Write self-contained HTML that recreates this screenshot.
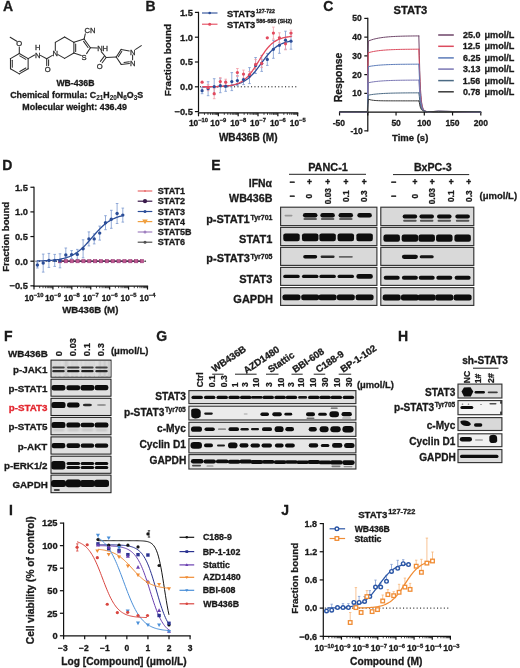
<!DOCTYPE html>
<html><head><meta charset="utf-8"><title>Figure</title>
<style>
html,body{margin:0;padding:0;background:#fff;overflow:hidden;}
svg{display:block;}
text{font-family:'Liberation Sans',Arial,sans-serif;}
</style></head>
<body>
<svg width="520" height="668" viewBox="0 0 520 668">
<defs>
<filter id="b1" x="-30%" y="-100%" width="160%" height="300%"><feGaussianBlur stdDeviation="0.7"/></filter>
<filter id="b2" x="-30%" y="-100%" width="160%" height="300%"><feGaussianBlur stdDeviation="0.9"/></filter>
<filter id="bt" x="-5%" y="-5%" width="110%" height="110%"><feGaussianBlur stdDeviation="0.25"/></filter>
</defs>
<rect width="520" height="668" fill="#fff"/>
<text x="2.95" y="11.30" font-size="14.00" text-anchor="start" fill="#1a1a1a" font-weight="bold" stroke="#1a1a1a" stroke-width="0.3">A</text>
<text x="145.49" y="11.00" font-size="14.00" text-anchor="start" fill="#1a1a1a" font-weight="bold" stroke="#1a1a1a" stroke-width="0.3">B</text>
<text x="323.24" y="11.00" font-size="14.00" text-anchor="start" fill="#1a1a1a" font-weight="bold" stroke="#1a1a1a" stroke-width="0.3">C</text>
<text x="2.29" y="170.20" font-size="14.00" text-anchor="start" fill="#1a1a1a" font-weight="bold" stroke="#1a1a1a" stroke-width="0.3">D</text>
<text x="211.29" y="170.40" font-size="14.00" text-anchor="start" fill="#1a1a1a" font-weight="bold" stroke="#1a1a1a" stroke-width="0.3">E</text>
<text x="3.99" y="340.80" font-size="14.00" text-anchor="start" fill="#1a1a1a" font-weight="bold" stroke="#1a1a1a" stroke-width="0.3">F</text>
<text x="156.24" y="340.80" font-size="14.00" text-anchor="start" fill="#1a1a1a" font-weight="bold" stroke="#1a1a1a" stroke-width="0.3">G</text>
<text x="398.09" y="340.80" font-size="14.00" text-anchor="start" fill="#1a1a1a" font-weight="bold" stroke="#1a1a1a" stroke-width="0.3">H</text>
<text x="8.99" y="515.40" font-size="14.00" text-anchor="start" fill="#1a1a1a" font-weight="bold" stroke="#1a1a1a" stroke-width="0.3">I</text>
<text x="281.29" y="515.40" font-size="14.00" text-anchor="start" fill="#1a1a1a" font-weight="bold" stroke="#1a1a1a" stroke-width="0.3">J</text>
<line x1="19.30" y1="53.50" x2="28.13" y2="58.60" stroke="#2e2e2e" stroke-width="1.05" stroke-linecap="round"/>
<line x1="28.13" y1="58.60" x2="28.13" y2="68.80" stroke="#2e2e2e" stroke-width="1.05" stroke-linecap="round"/>
<line x1="28.13" y1="68.80" x2="19.30" y2="73.90" stroke="#2e2e2e" stroke-width="1.05" stroke-linecap="round"/>
<line x1="19.30" y1="73.90" x2="10.47" y2="68.80" stroke="#2e2e2e" stroke-width="1.05" stroke-linecap="round"/>
<line x1="10.47" y1="68.80" x2="10.47" y2="58.60" stroke="#2e2e2e" stroke-width="1.05" stroke-linecap="round"/>
<line x1="10.47" y1="58.60" x2="19.30" y2="53.50" stroke="#2e2e2e" stroke-width="1.05" stroke-linecap="round"/>
<line x1="12.27" y1="67.20" x2="12.27" y2="60.20" stroke="#2e2e2e" stroke-width="1.05" stroke-linecap="round"/>
<line x1="25.85" y1="68.04" x2="19.79" y2="71.54" stroke="#2e2e2e" stroke-width="1.05" stroke-linecap="round"/>
<line x1="19.79" y1="55.86" x2="25.85" y2="59.36" stroke="#2e2e2e" stroke-width="1.05" stroke-linecap="round"/>
<line x1="19.30" y1="53.50" x2="19.30" y2="47.00" stroke="#2e2e2e" stroke-width="1.05" stroke-linecap="round"/>
<line x1="16.80" y1="41.20" x2="10.20" y2="37.20" stroke="#2e2e2e" stroke-width="1.05" stroke-linecap="round"/>
<text x="16.37" y="46.30" font-size="7.60" text-anchor="start" fill="#2e2e2e" font-weight="normal" stroke="#2e2e2e" stroke-width="0.3">O</text>
<line x1="28.13" y1="58.60" x2="34.60" y2="55.00" stroke="#2e2e2e" stroke-width="1.05" stroke-linecap="round"/>
<text x="34.88" y="57.70" font-size="7.60" text-anchor="start" fill="#2e2e2e" font-weight="normal" stroke="#2e2e2e" stroke-width="0.3">N</text>
<text x="34.88" y="50.30" font-size="7.60" text-anchor="start" fill="#2e2e2e" font-weight="normal" stroke="#2e2e2e" stroke-width="0.3">H</text>
<line x1="40.40" y1="55.40" x2="46.70" y2="58.80" stroke="#2e2e2e" stroke-width="1.05" stroke-linecap="round"/>
<line x1="46.70" y1="58.80" x2="46.70" y2="65.60" stroke="#2e2e2e" stroke-width="1.05" stroke-linecap="round"/>
<line x1="48.60" y1="59.80" x2="48.60" y2="65.60" stroke="#2e2e2e" stroke-width="1.05" stroke-linecap="round"/>
<text x="44.77" y="72.20" font-size="7.60" text-anchor="start" fill="#2e2e2e" font-weight="normal" stroke="#2e2e2e" stroke-width="0.3">O</text>
<line x1="46.70" y1="58.80" x2="52.40" y2="55.40" stroke="#2e2e2e" stroke-width="1.05" stroke-linecap="round"/>
<text x="52.58" y="56.00" font-size="7.60" text-anchor="start" fill="#2e2e2e" font-weight="normal" stroke="#2e2e2e" stroke-width="0.3">N</text>
<line x1="55.33" y1="42.35" x2="55.30" y2="50.60" stroke="#2e2e2e" stroke-width="1.05" stroke-linecap="round"/>
<line x1="55.33" y1="42.35" x2="64.60" y2="37.00" stroke="#2e2e2e" stroke-width="1.05" stroke-linecap="round"/>
<line x1="64.60" y1="37.00" x2="73.87" y2="42.35" stroke="#2e2e2e" stroke-width="1.05" stroke-linecap="round"/>
<line x1="73.87" y1="42.35" x2="73.87" y2="53.05" stroke="#2e2e2e" stroke-width="1.05" stroke-linecap="round"/>
<line x1="73.87" y1="53.05" x2="64.60" y2="58.40" stroke="#2e2e2e" stroke-width="1.05" stroke-linecap="round"/>
<line x1="64.60" y1="58.40" x2="58.00" y2="54.60" stroke="#2e2e2e" stroke-width="1.05" stroke-linecap="round"/>
<line x1="75.67" y1="43.95" x2="75.67" y2="51.45" stroke="#2e2e2e" stroke-width="1.05" stroke-linecap="round"/>
<line x1="73.87" y1="53.05" x2="81.30" y2="55.40" stroke="#2e2e2e" stroke-width="1.05" stroke-linecap="round"/>
<line x1="86.60" y1="53.60" x2="90.40" y2="47.70" stroke="#2e2e2e" stroke-width="1.05" stroke-linecap="round"/>
<line x1="90.40" y1="47.70" x2="84.10" y2="39.05" stroke="#2e2e2e" stroke-width="1.05" stroke-linecap="round"/>
<line x1="84.10" y1="39.05" x2="73.87" y2="42.35" stroke="#2e2e2e" stroke-width="1.05" stroke-linecap="round"/>
<line x1="88.00" y1="47.47" x2="83.59" y2="41.40" stroke="#2e2e2e" stroke-width="1.05" stroke-linecap="round"/>
<text x="81.59" y="59.60" font-size="7.60" text-anchor="start" fill="#2e2e2e" font-weight="normal" stroke="#2e2e2e" stroke-width="0.3">S</text>
<line x1="84.10" y1="39.05" x2="85.30" y2="33.80" stroke="#2e2e2e" stroke-width="1.05" stroke-linecap="round"/>
<text x="84.56" y="33.00" font-size="7.60" text-anchor="start" fill="#2e2e2e" font-weight="normal" stroke="#2e2e2e" stroke-width="0.3">CN</text>
<line x1="90.40" y1="47.70" x2="97.20" y2="47.90" stroke="#2e2e2e" stroke-width="1.05" stroke-linecap="round"/>
<text x="97.15" y="51.40" font-size="7.60" text-anchor="start" fill="#2e2e2e" font-weight="normal" stroke="#2e2e2e" stroke-width="0.3">NH</text>
<line x1="101.20" y1="51.60" x2="106.20" y2="57.50" stroke="#2e2e2e" stroke-width="1.05" stroke-linecap="round"/>
<line x1="106.20" y1="57.50" x2="102.20" y2="62.80" stroke="#2e2e2e" stroke-width="1.05" stroke-linecap="round"/>
<line x1="104.40" y1="56.10" x2="100.40" y2="61.40" stroke="#2e2e2e" stroke-width="1.05" stroke-linecap="round"/>
<text x="96.87" y="69.20" font-size="7.60" text-anchor="start" fill="#2e2e2e" font-weight="normal" stroke="#2e2e2e" stroke-width="0.3">O</text>
<line x1="106.20" y1="57.50" x2="116.20" y2="57.00" stroke="#2e2e2e" stroke-width="1.05" stroke-linecap="round"/>
<line x1="116.20" y1="57.00" x2="121.20" y2="49.40" stroke="#2e2e2e" stroke-width="1.05" stroke-linecap="round"/>
<line x1="118.31" y1="56.71" x2="121.77" y2="51.45" stroke="#2e2e2e" stroke-width="1.05" stroke-linecap="round"/>
<line x1="121.20" y1="49.40" x2="129.30" y2="51.00" stroke="#2e2e2e" stroke-width="1.05" stroke-linecap="round"/>
<line x1="132.60" y1="55.00" x2="132.60" y2="59.80" stroke="#2e2e2e" stroke-width="1.05" stroke-linecap="round"/>
<line x1="129.40" y1="63.50" x2="121.20" y2="64.40" stroke="#2e2e2e" stroke-width="1.05" stroke-linecap="round"/>
<line x1="129.34" y1="61.85" x2="124.00" y2="62.47" stroke="#2e2e2e" stroke-width="1.05" stroke-linecap="round"/>
<line x1="121.20" y1="64.40" x2="116.20" y2="57.00" stroke="#2e2e2e" stroke-width="1.05" stroke-linecap="round"/>
<text x="129.98" y="55.00" font-size="7.60" text-anchor="start" fill="#2e2e2e" font-weight="normal" stroke="#2e2e2e" stroke-width="0.3">N</text>
<text x="129.98" y="66.00" font-size="7.60" text-anchor="start" fill="#2e2e2e" font-weight="normal" stroke="#2e2e2e" stroke-width="0.3">N</text>
<line x1="135.60" y1="49.40" x2="141.30" y2="45.60" stroke="#2e2e2e" stroke-width="1.05" stroke-linecap="round"/>
<text x="56.40" y="85.50" font-size="8.69" text-anchor="start" fill="#1a1a1a" font-weight="bold" stroke="#1a1a1a" stroke-width="0.3">WB-436B</text>
<text x="10.2" y="97.9" font-size="8.85" font-weight="bold" fill="#1a1a1a" stroke="#1a1a1a" stroke-width="0.3" >Chemical formula: C<tspan font-size="6.4" dy="1.9" stroke-width="0.12">21</tspan><tspan dy="-1.9">H</tspan><tspan font-size="6.4" dy="1.9" stroke-width="0.12">20</tspan><tspan dy="-1.9">N</tspan><tspan font-size="6.4" dy="1.9" stroke-width="0.12">6</tspan><tspan dy="-1.9">O</tspan><tspan font-size="6.4" dy="1.9" stroke-width="0.12">3</tspan><tspan dy="-1.9">S</tspan></text>
<text x="22.32" y="109.60" font-size="8.90" text-anchor="start" fill="#1a1a1a" font-weight="bold" stroke="#1a1a1a" stroke-width="0.3">Molecular weight: 436.49</text>
<line x1="198.50" y1="11.80" x2="198.50" y2="112.20" stroke="#111" stroke-width="1.2"/>
<line x1="194.90" y1="12.40" x2="198.50" y2="12.40" stroke="#111" stroke-width="1.2"/>
<text x="192.88" y="15.70" font-size="9.30" text-anchor="end" fill="#1a1a1a" font-weight="bold" stroke="#1a1a1a" stroke-width="0.3">1.5</text>
<line x1="194.90" y1="37.20" x2="198.50" y2="37.20" stroke="#111" stroke-width="1.2"/>
<text x="193.02" y="40.50" font-size="9.30" text-anchor="end" fill="#1a1a1a" font-weight="bold" stroke="#1a1a1a" stroke-width="0.3">1.0</text>
<line x1="194.90" y1="62.00" x2="198.50" y2="62.00" stroke="#111" stroke-width="1.2"/>
<text x="192.88" y="65.30" font-size="9.30" text-anchor="end" fill="#1a1a1a" font-weight="bold" stroke="#1a1a1a" stroke-width="0.3">0.5</text>
<line x1="194.90" y1="86.80" x2="198.50" y2="86.80" stroke="#111" stroke-width="1.2"/>
<text x="193.02" y="90.10" font-size="9.30" text-anchor="end" fill="#1a1a1a" font-weight="bold" stroke="#1a1a1a" stroke-width="0.3">0.0</text>
<line x1="194.90" y1="111.60" x2="198.50" y2="111.60" stroke="#111" stroke-width="1.2"/>
<text x="192.87" y="114.90" font-size="9.30" text-anchor="end" fill="#1a1a1a" font-weight="bold" stroke="#1a1a1a" stroke-width="0.3">−0.5</text>
<line x1="197.90" y1="112.90" x2="298.30" y2="112.90" stroke="#111" stroke-width="1.2"/>
<line x1="198.50" y1="112.90" x2="198.50" y2="116.30" stroke="#111" stroke-width="1.2"/>
<line x1="204.47" y1="112.90" x2="204.47" y2="114.90" stroke="#111" stroke-width="0.8"/>
<line x1="207.97" y1="112.90" x2="207.97" y2="114.90" stroke="#111" stroke-width="0.8"/>
<line x1="210.44" y1="112.90" x2="210.44" y2="114.90" stroke="#111" stroke-width="0.8"/>
<line x1="212.37" y1="112.90" x2="212.37" y2="114.90" stroke="#111" stroke-width="0.8"/>
<line x1="213.94" y1="112.90" x2="213.94" y2="114.90" stroke="#111" stroke-width="0.8"/>
<line x1="215.27" y1="112.90" x2="215.27" y2="114.90" stroke="#111" stroke-width="0.8"/>
<line x1="216.42" y1="112.90" x2="216.42" y2="114.90" stroke="#111" stroke-width="0.8"/>
<line x1="217.43" y1="112.90" x2="217.43" y2="114.90" stroke="#111" stroke-width="0.8"/>
<text x="188.91" y="125.80" font-size="8.4" fill="#1a1a1a" font-weight="bold" stroke="#1a1a1a" stroke-width="0.3">10<tspan font-size="5.8" dy="-3.4">−10</tspan></text>
<line x1="218.34" y1="112.90" x2="218.34" y2="116.30" stroke="#111" stroke-width="1.2"/>
<line x1="224.31" y1="112.90" x2="224.31" y2="114.90" stroke="#111" stroke-width="0.8"/>
<line x1="227.81" y1="112.90" x2="227.81" y2="114.90" stroke="#111" stroke-width="0.8"/>
<line x1="230.28" y1="112.90" x2="230.28" y2="114.90" stroke="#111" stroke-width="0.8"/>
<line x1="232.21" y1="112.90" x2="232.21" y2="114.90" stroke="#111" stroke-width="0.8"/>
<line x1="233.78" y1="112.90" x2="233.78" y2="114.90" stroke="#111" stroke-width="0.8"/>
<line x1="235.11" y1="112.90" x2="235.11" y2="114.90" stroke="#111" stroke-width="0.8"/>
<line x1="236.26" y1="112.90" x2="236.26" y2="114.90" stroke="#111" stroke-width="0.8"/>
<line x1="237.27" y1="112.90" x2="237.27" y2="114.90" stroke="#111" stroke-width="0.8"/>
<text x="210.36" y="125.80" font-size="8.4" fill="#1a1a1a" font-weight="bold" stroke="#1a1a1a" stroke-width="0.3">10<tspan font-size="5.8" dy="-3.4">−9</tspan></text>
<line x1="238.18" y1="112.90" x2="238.18" y2="116.30" stroke="#111" stroke-width="1.2"/>
<line x1="244.15" y1="112.90" x2="244.15" y2="114.90" stroke="#111" stroke-width="0.8"/>
<line x1="247.65" y1="112.90" x2="247.65" y2="114.90" stroke="#111" stroke-width="0.8"/>
<line x1="250.12" y1="112.90" x2="250.12" y2="114.90" stroke="#111" stroke-width="0.8"/>
<line x1="252.05" y1="112.90" x2="252.05" y2="114.90" stroke="#111" stroke-width="0.8"/>
<line x1="253.62" y1="112.90" x2="253.62" y2="114.90" stroke="#111" stroke-width="0.8"/>
<line x1="254.95" y1="112.90" x2="254.95" y2="114.90" stroke="#111" stroke-width="0.8"/>
<line x1="256.10" y1="112.90" x2="256.10" y2="114.90" stroke="#111" stroke-width="0.8"/>
<line x1="257.11" y1="112.90" x2="257.11" y2="114.90" stroke="#111" stroke-width="0.8"/>
<text x="230.20" y="125.80" font-size="8.4" fill="#1a1a1a" font-weight="bold" stroke="#1a1a1a" stroke-width="0.3">10<tspan font-size="5.8" dy="-3.4">−8</tspan></text>
<line x1="258.02" y1="112.90" x2="258.02" y2="116.30" stroke="#111" stroke-width="1.2"/>
<line x1="263.99" y1="112.90" x2="263.99" y2="114.90" stroke="#111" stroke-width="0.8"/>
<line x1="267.49" y1="112.90" x2="267.49" y2="114.90" stroke="#111" stroke-width="0.8"/>
<line x1="269.96" y1="112.90" x2="269.96" y2="114.90" stroke="#111" stroke-width="0.8"/>
<line x1="271.89" y1="112.90" x2="271.89" y2="114.90" stroke="#111" stroke-width="0.8"/>
<line x1="273.46" y1="112.90" x2="273.46" y2="114.90" stroke="#111" stroke-width="0.8"/>
<line x1="274.79" y1="112.90" x2="274.79" y2="114.90" stroke="#111" stroke-width="0.8"/>
<line x1="275.94" y1="112.90" x2="275.94" y2="114.90" stroke="#111" stroke-width="0.8"/>
<line x1="276.95" y1="112.90" x2="276.95" y2="114.90" stroke="#111" stroke-width="0.8"/>
<text x="250.04" y="125.80" font-size="8.4" fill="#1a1a1a" font-weight="bold" stroke="#1a1a1a" stroke-width="0.3">10<tspan font-size="5.8" dy="-3.4">−7</tspan></text>
<line x1="277.86" y1="112.90" x2="277.86" y2="116.30" stroke="#111" stroke-width="1.2"/>
<line x1="283.83" y1="112.90" x2="283.83" y2="114.90" stroke="#111" stroke-width="0.8"/>
<line x1="287.33" y1="112.90" x2="287.33" y2="114.90" stroke="#111" stroke-width="0.8"/>
<line x1="289.80" y1="112.90" x2="289.80" y2="114.90" stroke="#111" stroke-width="0.8"/>
<line x1="291.73" y1="112.90" x2="291.73" y2="114.90" stroke="#111" stroke-width="0.8"/>
<line x1="293.30" y1="112.90" x2="293.30" y2="114.90" stroke="#111" stroke-width="0.8"/>
<line x1="294.63" y1="112.90" x2="294.63" y2="114.90" stroke="#111" stroke-width="0.8"/>
<line x1="295.78" y1="112.90" x2="295.78" y2="114.90" stroke="#111" stroke-width="0.8"/>
<line x1="296.79" y1="112.90" x2="296.79" y2="114.90" stroke="#111" stroke-width="0.8"/>
<text x="269.88" y="125.80" font-size="8.4" fill="#1a1a1a" font-weight="bold" stroke="#1a1a1a" stroke-width="0.3">10<tspan font-size="5.8" dy="-3.4">−6</tspan></text>
<line x1="297.70" y1="112.90" x2="297.70" y2="116.30" stroke="#111" stroke-width="1.2"/>
<text x="289.72" y="125.80" font-size="8.4" fill="#1a1a1a" font-weight="bold" stroke="#1a1a1a" stroke-width="0.3">10<tspan font-size="5.8" dy="-3.4">−5</tspan></text>
<text x="0.00" y="0.00" font-size="9.96" text-anchor="start" fill="#1a1a1a" font-weight="bold" stroke="#1a1a1a" stroke-width="0.3" transform="translate(170.90 96.35) rotate(-90)">Fraction bound</text>
<text x="218.90" y="140.80" font-size="10.05" text-anchor="start" fill="#1a1a1a" font-weight="bold" stroke="#1a1a1a" stroke-width="0.3">WB436B (M)</text>
<line x1="200.00" y1="86.80" x2="297.70" y2="86.80" stroke="#111" stroke-width="1.0" stroke-dasharray="1.1 2.3"/>
<line x1="202.10" y1="87.70" x2="202.10" y2="93.70" stroke="#7b98cf" stroke-width="0.8"/>
<line x1="200.80" y1="87.70" x2="203.40" y2="87.70" stroke="#7b98cf" stroke-width="0.8"/>
<line x1="200.80" y1="93.70" x2="203.40" y2="93.70" stroke="#7b98cf" stroke-width="0.8"/>
<line x1="208.10" y1="81.70" x2="208.10" y2="95.70" stroke="#7b98cf" stroke-width="0.8"/>
<line x1="206.80" y1="81.70" x2="209.40" y2="81.70" stroke="#7b98cf" stroke-width="0.8"/>
<line x1="206.80" y1="95.70" x2="209.40" y2="95.70" stroke="#7b98cf" stroke-width="0.8"/>
<line x1="214.20" y1="78.70" x2="214.20" y2="94.70" stroke="#7b98cf" stroke-width="0.8"/>
<line x1="212.90" y1="78.70" x2="215.50" y2="78.70" stroke="#7b98cf" stroke-width="0.8"/>
<line x1="212.90" y1="94.70" x2="215.50" y2="94.70" stroke="#7b98cf" stroke-width="0.8"/>
<line x1="220.30" y1="78.70" x2="220.30" y2="92.70" stroke="#7b98cf" stroke-width="0.8"/>
<line x1="219.00" y1="78.70" x2="221.60" y2="78.70" stroke="#7b98cf" stroke-width="0.8"/>
<line x1="219.00" y1="92.70" x2="221.60" y2="92.70" stroke="#7b98cf" stroke-width="0.8"/>
<line x1="225.70" y1="81.30" x2="225.70" y2="91.30" stroke="#7b98cf" stroke-width="0.8"/>
<line x1="224.40" y1="81.30" x2="227.00" y2="81.30" stroke="#7b98cf" stroke-width="0.8"/>
<line x1="224.40" y1="91.30" x2="227.00" y2="91.30" stroke="#7b98cf" stroke-width="0.8"/>
<line x1="231.80" y1="72.60" x2="231.80" y2="90.60" stroke="#7b98cf" stroke-width="0.8"/>
<line x1="230.50" y1="72.60" x2="233.10" y2="72.60" stroke="#7b98cf" stroke-width="0.8"/>
<line x1="230.50" y1="90.60" x2="233.10" y2="90.60" stroke="#7b98cf" stroke-width="0.8"/>
<line x1="237.40" y1="75.60" x2="237.40" y2="85.60" stroke="#7b98cf" stroke-width="0.8"/>
<line x1="236.10" y1="75.60" x2="238.70" y2="75.60" stroke="#7b98cf" stroke-width="0.8"/>
<line x1="236.10" y1="85.60" x2="238.70" y2="85.60" stroke="#7b98cf" stroke-width="0.8"/>
<line x1="243.50" y1="74.60" x2="243.50" y2="84.60" stroke="#7b98cf" stroke-width="0.8"/>
<line x1="242.20" y1="74.60" x2="244.80" y2="74.60" stroke="#7b98cf" stroke-width="0.8"/>
<line x1="242.20" y1="84.60" x2="244.80" y2="84.60" stroke="#7b98cf" stroke-width="0.8"/>
<line x1="249.50" y1="67.60" x2="249.50" y2="83.60" stroke="#7b98cf" stroke-width="0.8"/>
<line x1="248.20" y1="67.60" x2="250.80" y2="67.60" stroke="#7b98cf" stroke-width="0.8"/>
<line x1="248.20" y1="83.60" x2="250.80" y2="83.60" stroke="#7b98cf" stroke-width="0.8"/>
<line x1="255.60" y1="57.50" x2="255.60" y2="73.50" stroke="#7b98cf" stroke-width="0.8"/>
<line x1="254.30" y1="57.50" x2="256.90" y2="57.50" stroke="#7b98cf" stroke-width="0.8"/>
<line x1="254.30" y1="73.50" x2="256.90" y2="73.50" stroke="#7b98cf" stroke-width="0.8"/>
<line x1="261.70" y1="55.40" x2="261.70" y2="71.40" stroke="#7b98cf" stroke-width="0.8"/>
<line x1="260.40" y1="55.40" x2="263.00" y2="55.40" stroke="#7b98cf" stroke-width="0.8"/>
<line x1="260.40" y1="71.40" x2="263.00" y2="71.40" stroke="#7b98cf" stroke-width="0.8"/>
<line x1="267.30" y1="53.40" x2="267.30" y2="65.40" stroke="#7b98cf" stroke-width="0.8"/>
<line x1="266.00" y1="53.40" x2="268.60" y2="53.40" stroke="#7b98cf" stroke-width="0.8"/>
<line x1="266.00" y1="65.40" x2="268.60" y2="65.40" stroke="#7b98cf" stroke-width="0.8"/>
<line x1="273.40" y1="40.30" x2="273.40" y2="58.30" stroke="#7b98cf" stroke-width="0.8"/>
<line x1="272.10" y1="40.30" x2="274.70" y2="40.30" stroke="#7b98cf" stroke-width="0.8"/>
<line x1="272.10" y1="58.30" x2="274.70" y2="58.30" stroke="#7b98cf" stroke-width="0.8"/>
<line x1="279.40" y1="37.30" x2="279.40" y2="53.30" stroke="#7b98cf" stroke-width="0.8"/>
<line x1="278.10" y1="37.30" x2="280.70" y2="37.30" stroke="#7b98cf" stroke-width="0.8"/>
<line x1="278.10" y1="53.30" x2="280.70" y2="53.30" stroke="#7b98cf" stroke-width="0.8"/>
<line x1="285.50" y1="31.20" x2="285.50" y2="49.20" stroke="#7b98cf" stroke-width="0.8"/>
<line x1="284.20" y1="31.20" x2="286.80" y2="31.20" stroke="#7b98cf" stroke-width="0.8"/>
<line x1="284.20" y1="49.20" x2="286.80" y2="49.20" stroke="#7b98cf" stroke-width="0.8"/>
<line x1="291.00" y1="33.20" x2="291.00" y2="49.20" stroke="#7b98cf" stroke-width="0.8"/>
<line x1="289.70" y1="33.20" x2="292.30" y2="33.20" stroke="#7b98cf" stroke-width="0.8"/>
<line x1="289.70" y1="49.20" x2="292.30" y2="49.20" stroke="#7b98cf" stroke-width="0.8"/>
<line x1="208.10" y1="84.70" x2="208.10" y2="90.70" stroke="#f39aa4" stroke-width="0.8"/>
<line x1="206.80" y1="84.70" x2="209.40" y2="84.70" stroke="#f39aa4" stroke-width="0.8"/>
<line x1="206.80" y1="90.70" x2="209.40" y2="90.70" stroke="#f39aa4" stroke-width="0.8"/>
<line x1="214.20" y1="88.70" x2="214.20" y2="98.70" stroke="#f39aa4" stroke-width="0.8"/>
<line x1="212.90" y1="88.70" x2="215.50" y2="88.70" stroke="#f39aa4" stroke-width="0.8"/>
<line x1="212.90" y1="98.70" x2="215.50" y2="98.70" stroke="#f39aa4" stroke-width="0.8"/>
<line x1="220.30" y1="77.60" x2="220.30" y2="85.60" stroke="#f39aa4" stroke-width="0.8"/>
<line x1="219.00" y1="77.60" x2="221.60" y2="77.60" stroke="#f39aa4" stroke-width="0.8"/>
<line x1="219.00" y1="85.60" x2="221.60" y2="85.60" stroke="#f39aa4" stroke-width="0.8"/>
<line x1="225.70" y1="79.20" x2="225.70" y2="85.20" stroke="#f39aa4" stroke-width="0.8"/>
<line x1="224.40" y1="79.20" x2="227.00" y2="79.20" stroke="#f39aa4" stroke-width="0.8"/>
<line x1="224.40" y1="85.20" x2="227.00" y2="85.20" stroke="#f39aa4" stroke-width="0.8"/>
<line x1="237.40" y1="68.50" x2="237.40" y2="76.50" stroke="#f39aa4" stroke-width="0.8"/>
<line x1="236.10" y1="68.50" x2="238.70" y2="68.50" stroke="#f39aa4" stroke-width="0.8"/>
<line x1="236.10" y1="76.50" x2="238.70" y2="76.50" stroke="#f39aa4" stroke-width="0.8"/>
<line x1="243.50" y1="70.10" x2="243.50" y2="78.10" stroke="#f39aa4" stroke-width="0.8"/>
<line x1="242.20" y1="70.10" x2="244.80" y2="70.10" stroke="#f39aa4" stroke-width="0.8"/>
<line x1="242.20" y1="78.10" x2="244.80" y2="78.10" stroke="#f39aa4" stroke-width="0.8"/>
<line x1="249.50" y1="71.50" x2="249.50" y2="77.50" stroke="#f39aa4" stroke-width="0.8"/>
<line x1="248.20" y1="71.50" x2="250.80" y2="71.50" stroke="#f39aa4" stroke-width="0.8"/>
<line x1="248.20" y1="77.50" x2="250.80" y2="77.50" stroke="#f39aa4" stroke-width="0.8"/>
<line x1="255.60" y1="59.40" x2="255.60" y2="69.40" stroke="#f39aa4" stroke-width="0.8"/>
<line x1="254.30" y1="59.40" x2="256.90" y2="59.40" stroke="#f39aa4" stroke-width="0.8"/>
<line x1="254.30" y1="69.40" x2="256.90" y2="69.40" stroke="#f39aa4" stroke-width="0.8"/>
<line x1="261.70" y1="59.40" x2="261.70" y2="67.40" stroke="#f39aa4" stroke-width="0.8"/>
<line x1="260.40" y1="59.40" x2="263.00" y2="59.40" stroke="#f39aa4" stroke-width="0.8"/>
<line x1="260.40" y1="67.40" x2="263.00" y2="67.40" stroke="#f39aa4" stroke-width="0.8"/>
<line x1="273.40" y1="27.10" x2="273.40" y2="39.10" stroke="#f39aa4" stroke-width="0.8"/>
<line x1="272.10" y1="27.10" x2="274.70" y2="27.10" stroke="#f39aa4" stroke-width="0.8"/>
<line x1="272.10" y1="39.10" x2="274.70" y2="39.10" stroke="#f39aa4" stroke-width="0.8"/>
<line x1="279.40" y1="32.80" x2="279.40" y2="42.80" stroke="#f39aa4" stroke-width="0.8"/>
<line x1="278.10" y1="32.80" x2="280.70" y2="32.80" stroke="#f39aa4" stroke-width="0.8"/>
<line x1="278.10" y1="42.80" x2="280.70" y2="42.80" stroke="#f39aa4" stroke-width="0.8"/>
<line x1="285.50" y1="37.80" x2="285.50" y2="49.80" stroke="#f39aa4" stroke-width="0.8"/>
<line x1="284.20" y1="37.80" x2="286.80" y2="37.80" stroke="#f39aa4" stroke-width="0.8"/>
<line x1="284.20" y1="49.80" x2="286.80" y2="49.80" stroke="#f39aa4" stroke-width="0.8"/>
<line x1="291.00" y1="30.10" x2="291.00" y2="36.10" stroke="#f39aa4" stroke-width="0.8"/>
<line x1="289.70" y1="30.10" x2="292.30" y2="30.10" stroke="#f39aa4" stroke-width="0.8"/>
<line x1="289.70" y1="36.10" x2="292.30" y2="36.10" stroke="#f39aa4" stroke-width="0.8"/>
<polyline points="202.47,86.75 203.58,86.74 204.70,86.73 205.82,86.73 206.93,86.72 208.05,86.70 209.16,86.69 210.28,86.68 211.40,86.66 212.51,86.64 213.63,86.62 214.74,86.59 215.86,86.56 216.98,86.53 218.09,86.49 219.21,86.45 220.32,86.40 221.44,86.35 222.56,86.29 223.67,86.22 224.79,86.14 225.90,86.05 227.02,85.94 228.14,85.83 229.25,85.70 230.37,85.55 231.48,85.38 232.60,85.19 233.72,84.98 234.83,84.73 235.95,84.46 237.06,84.16 238.18,83.82 239.30,83.43 240.41,83.00 241.53,82.53 242.64,82.00 243.76,81.41 244.88,80.76 245.99,80.04 247.11,79.26 248.22,78.40 249.34,77.47 250.46,76.46 251.57,75.38 252.69,74.22 253.80,72.99 254.92,71.70 256.04,70.34 257.15,68.92 258.27,67.47 259.38,65.97 260.50,64.46 261.62,62.93 262.73,61.41 263.85,59.91 264.96,58.43 266.08,56.99 267.20,55.59 268.31,54.26 269.43,52.99 270.54,51.79 271.66,50.66 272.78,49.61 273.89,48.63 275.01,47.73 276.12,46.90 277.24,46.14 278.36,45.45 279.47,44.83 280.59,44.26 281.70,43.76 282.82,43.30 283.94,42.89 285.05,42.52 286.17,42.20 287.28,41.90 288.40,41.65 289.52,41.42 290.63,41.21 291.75,41.03" fill="none" stroke="#2b4d98" stroke-width="1.3" stroke-linejoin="round"/>
<polyline points="202.47,86.76 203.58,86.75 204.70,86.75 205.82,86.74 206.93,86.73 208.05,86.72 209.16,86.71 210.28,86.69 211.40,86.68 212.51,86.66 213.63,86.64 214.74,86.61 215.86,86.58 216.98,86.55 218.09,86.51 219.21,86.47 220.32,86.42 221.44,86.36 222.56,86.29 223.67,86.22 224.79,86.13 225.90,86.03 227.02,85.91 228.14,85.78 229.25,85.62 230.37,85.45 231.48,85.25 232.60,85.02 233.72,84.76 234.83,84.46 235.95,84.12 237.06,83.73 238.18,83.30 239.30,82.80 240.41,82.24 241.53,81.62 242.64,80.92 243.76,80.13 244.88,79.26 245.99,78.30 247.11,77.24 248.22,76.09 249.34,74.83 250.46,73.47 251.57,72.02 252.69,70.48 253.80,68.86 254.92,67.17 256.04,65.42 257.15,63.63 258.27,61.82 259.38,60.00 260.50,58.20 261.62,56.42 262.73,54.69 263.85,53.03 264.96,51.44 266.08,49.93 267.20,48.51 268.31,47.20 269.43,45.98 270.54,44.86 271.66,43.84 272.78,42.91 273.89,42.07 275.01,41.32 276.12,40.65 277.24,40.05 278.36,39.52 279.47,39.04 280.59,38.63 281.70,38.26 282.82,37.94 283.94,37.65 285.05,37.40 286.17,37.18 287.28,36.99 288.40,36.83 289.52,36.68 290.63,36.56 291.75,36.44" fill="none" stroke="#e34a5e" stroke-width="1.3" stroke-linejoin="round"/>
<circle cx="202.10" cy="90.70" r="1.6" fill="#2b4d98"/>
<circle cx="208.10" cy="88.70" r="1.6" fill="#2b4d98"/>
<circle cx="214.20" cy="86.70" r="1.6" fill="#2b4d98"/>
<circle cx="220.30" cy="85.70" r="1.6" fill="#2b4d98"/>
<circle cx="225.70" cy="86.30" r="1.6" fill="#2b4d98"/>
<circle cx="231.80" cy="81.60" r="1.6" fill="#2b4d98"/>
<circle cx="237.40" cy="80.60" r="1.6" fill="#2b4d98"/>
<circle cx="243.50" cy="79.60" r="1.6" fill="#2b4d98"/>
<circle cx="249.50" cy="75.60" r="1.6" fill="#2b4d98"/>
<circle cx="255.60" cy="65.50" r="1.6" fill="#2b4d98"/>
<circle cx="261.70" cy="63.40" r="1.6" fill="#2b4d98"/>
<circle cx="267.30" cy="59.40" r="1.6" fill="#2b4d98"/>
<circle cx="273.40" cy="49.30" r="1.6" fill="#2b4d98"/>
<circle cx="279.40" cy="45.30" r="1.6" fill="#2b4d98"/>
<circle cx="285.50" cy="40.20" r="1.6" fill="#2b4d98"/>
<circle cx="291.00" cy="41.20" r="1.6" fill="#2b4d98"/>
<circle cx="202.10" cy="82.20" r="1.6" fill="#e34a5e"/>
<circle cx="208.10" cy="87.70" r="1.6" fill="#e34a5e"/>
<circle cx="214.20" cy="93.70" r="1.6" fill="#e34a5e"/>
<circle cx="220.30" cy="81.60" r="1.6" fill="#e34a5e"/>
<circle cx="225.70" cy="82.20" r="1.6" fill="#e34a5e"/>
<circle cx="237.40" cy="72.50" r="1.6" fill="#e34a5e"/>
<circle cx="243.50" cy="74.10" r="1.6" fill="#e34a5e"/>
<circle cx="249.50" cy="74.50" r="1.6" fill="#e34a5e"/>
<circle cx="255.60" cy="64.40" r="1.6" fill="#e34a5e"/>
<circle cx="261.70" cy="63.40" r="1.6" fill="#e34a5e"/>
<circle cx="267.30" cy="37.80" r="1.6" fill="#e34a5e"/>
<circle cx="273.40" cy="33.10" r="1.6" fill="#e34a5e"/>
<circle cx="279.40" cy="37.80" r="1.6" fill="#e34a5e"/>
<circle cx="285.50" cy="43.80" r="1.6" fill="#e34a5e"/>
<circle cx="291.00" cy="33.10" r="1.6" fill="#e34a5e"/>
<line x1="202.00" y1="13.00" x2="217.50" y2="13.00" stroke="#2b4d98" stroke-width="1.1"/>
<circle cx="209.70" cy="13.00" r="1.3" fill="#2b4d98"/>
<line x1="202.00" y1="24.20" x2="217.50" y2="24.20" stroke="#e34a5e" stroke-width="1.1"/>
<circle cx="209.70" cy="24.20" r="1.5" fill="#e34a5e"/>
<text x="227.12" y="17.10" font-size="9.36" text-anchor="start" fill="#1a1a1a" font-weight="bold" stroke="#1a1a1a" stroke-width="0.3">STAT3</text>
<text x="255.97" y="13.00" font-size="5.11" text-anchor="start" fill="#1a1a1a" font-weight="bold" stroke="#1a1a1a" stroke-width="0.3">127-722</text>
<text x="227.12" y="27.60" font-size="9.36" text-anchor="start" fill="#1a1a1a" font-weight="bold" stroke="#1a1a1a" stroke-width="0.3">STAT3</text>
<text x="256.13" y="23.20" font-size="5.51" text-anchor="start" fill="#1a1a1a" font-weight="bold" stroke="#1a1a1a" stroke-width="0.3">586-685 (SH2)</text>
<line x1="367.80" y1="17.80" x2="367.80" y2="131.44" stroke="#111" stroke-width="1.2"/>
<line x1="364.30" y1="18.40" x2="367.80" y2="18.40" stroke="#111" stroke-width="1.2"/>
<text x="361.80" y="21.40" font-size="8.50" text-anchor="end" fill="#1a1a1a" font-weight="bold" stroke="#1a1a1a" stroke-width="0.3">50</text>
<line x1="364.30" y1="37.14" x2="367.80" y2="37.14" stroke="#111" stroke-width="1.2"/>
<text x="361.80" y="40.14" font-size="8.50" text-anchor="end" fill="#1a1a1a" font-weight="bold" stroke="#1a1a1a" stroke-width="0.3">40</text>
<line x1="364.30" y1="55.88" x2="367.80" y2="55.88" stroke="#111" stroke-width="1.2"/>
<text x="361.80" y="58.88" font-size="8.50" text-anchor="end" fill="#1a1a1a" font-weight="bold" stroke="#1a1a1a" stroke-width="0.3">30</text>
<line x1="364.30" y1="74.62" x2="367.80" y2="74.62" stroke="#111" stroke-width="1.2"/>
<text x="361.80" y="77.62" font-size="8.50" text-anchor="end" fill="#1a1a1a" font-weight="bold" stroke="#1a1a1a" stroke-width="0.3">20</text>
<line x1="364.30" y1="93.36" x2="367.80" y2="93.36" stroke="#111" stroke-width="1.2"/>
<text x="361.80" y="96.36" font-size="8.50" text-anchor="end" fill="#1a1a1a" font-weight="bold" stroke="#1a1a1a" stroke-width="0.3">10</text>
<line x1="364.30" y1="130.84" x2="367.80" y2="130.84" stroke="#111" stroke-width="1.2"/>
<text x="362.79" y="133.84" font-size="8.50" text-anchor="end" fill="#1a1a1a" font-weight="bold" stroke="#1a1a1a" stroke-width="0.3">-10</text>
<line x1="338.95" y1="112.10" x2="481.40" y2="112.10" stroke="#111" stroke-width="1.2"/>
<line x1="339.55" y1="112.10" x2="339.55" y2="115.50" stroke="#111" stroke-width="1.2"/>
<text x="332.63" y="126.40" font-size="8.50" text-anchor="start" fill="#1a1a1a" font-weight="bold" stroke="#1a1a1a" stroke-width="0.3">-50</text>
<line x1="367.80" y1="112.10" x2="367.80" y2="115.50" stroke="#111" stroke-width="1.2"/>
<line x1="396.05" y1="112.10" x2="396.05" y2="115.50" stroke="#111" stroke-width="1.2"/>
<text x="391.40" y="126.40" font-size="8.50" text-anchor="start" fill="#1a1a1a" font-weight="bold" stroke="#1a1a1a" stroke-width="0.3">50</text>
<line x1="424.30" y1="112.10" x2="424.30" y2="115.50" stroke="#111" stroke-width="1.2"/>
<text x="417.14" y="126.40" font-size="8.50" text-anchor="start" fill="#1a1a1a" font-weight="bold" stroke="#1a1a1a" stroke-width="0.3">100</text>
<line x1="452.55" y1="112.10" x2="452.55" y2="115.50" stroke="#111" stroke-width="1.2"/>
<text x="445.39" y="126.40" font-size="8.50" text-anchor="start" fill="#1a1a1a" font-weight="bold" stroke="#1a1a1a" stroke-width="0.3">150</text>
<line x1="480.80" y1="112.10" x2="480.80" y2="115.50" stroke="#111" stroke-width="1.2"/>
<text x="473.77" y="126.40" font-size="8.50" text-anchor="start" fill="#1a1a1a" font-weight="bold" stroke="#1a1a1a" stroke-width="0.3">200</text>
<text x="0.00" y="0.00" font-size="10.33" text-anchor="start" fill="#1a1a1a" font-weight="bold" stroke="#1a1a1a" stroke-width="0.3" transform="translate(342.20 102.17) rotate(-90)">Response</text>
<text x="392.00" y="141.20" font-size="9.53" text-anchor="start" fill="#1a1a1a" font-weight="bold" stroke="#1a1a1a" stroke-width="0.3">Time (s)</text>
<text x="393.56" y="14.40" font-size="11.19" text-anchor="start" fill="#1a1a1a" font-weight="bold" stroke="#1a1a1a" stroke-width="0.3">STAT3</text>
<polyline points="339.55,111.73 367.46,111.73 367.91,55.43 368.37,41.02 370.06,40.36 371.75,39.78 373.45,39.28 375.14,38.84 376.84,38.45 378.54,38.12 380.23,37.83 381.93,37.57 383.62,37.35 385.31,37.16 387.01,36.99 388.70,36.84 390.40,36.71 392.10,36.60 393.79,36.50 395.49,36.41 397.18,36.34 398.88,36.27 400.57,36.22 402.26,36.17 403.96,36.12 405.66,36.09 407.35,36.05 409.05,36.03 410.74,36.00 412.44,35.98 414.13,35.96 415.82,35.94 417.52,35.93 419.22,35.92 418.82,35.83 419.33,55.20 419.72,70.40 420.12,81.48 420.51,89.55 420.91,95.44 421.31,99.74 421.70,102.88 422.10,105.18 422.49,106.86 422.89,108.10 423.28,109.01 423.68,109.68 424.07,110.18 424.47,110.55 424.87,110.83 425.26,111.04 425.66,111.20 426.05,111.33 426.45,111.42 426.84,111.50 427.24,111.56 427.63,111.62 428.03,111.66 438.43,111.35 480.80,111.82" fill="none" stroke="#6e4568" stroke-width="1.0" stroke-linejoin="round"/>
<polyline points="339.55,111.73 367.46,111.73 367.91,64.73 368.37,52.72 370.06,52.26 371.75,51.86 373.45,51.51 375.14,51.21 376.84,50.94 378.54,50.71 380.23,50.51 381.93,50.34 383.62,50.18 385.31,50.05 387.01,49.93 388.70,49.83 390.40,49.74 392.10,49.66 393.79,49.60 395.49,49.54 397.18,49.49 398.88,49.44 400.57,49.40 402.26,49.37 403.96,49.34 405.66,49.31 407.35,49.29 409.05,49.27 410.74,49.25 412.44,49.24 414.13,49.22 415.82,49.21 417.52,49.20 419.22,49.19 418.82,49.13 419.33,64.88 419.72,77.44 420.12,86.60 420.51,93.28 420.91,98.15 421.31,101.71 421.70,104.31 422.10,106.22 422.49,107.62 422.89,108.65 423.28,109.41 423.68,109.97 424.07,110.39 424.47,110.71 424.87,110.94 425.26,111.12 425.66,111.26 426.05,111.37 426.45,111.46 426.84,111.52 427.24,111.58 427.63,111.63 428.03,111.67 438.43,111.35 480.80,111.82" fill="none" stroke="#dc4b5e" stroke-width="1.0" stroke-linejoin="round"/>
<polyline points="339.55,111.73 367.46,111.73 367.91,75.82 368.37,66.63 370.06,66.31 371.75,66.03 373.45,65.79 375.14,65.58 376.84,65.39 378.54,65.23 380.23,65.09 381.93,64.97 383.62,64.86 385.31,64.77 387.01,64.68 388.70,64.61 390.40,64.55 392.10,64.50 393.79,64.45 395.49,64.41 397.18,64.37 398.88,64.34 400.57,64.31 402.26,64.29 403.96,64.27 405.66,64.25 407.35,64.23 409.05,64.22 410.74,64.21 412.44,64.20 414.13,64.19 415.82,64.18 417.52,64.17 419.22,64.17 418.82,64.13 419.33,75.79 419.72,85.38 420.12,92.37 420.51,97.48 420.91,101.21 421.31,103.93 421.70,105.93 422.10,107.40 422.49,108.48 422.89,109.27 423.28,109.86 423.68,110.30 424.07,110.63 424.47,110.88 424.87,111.07 425.26,111.22 425.66,111.33 426.05,111.42 426.45,111.49 426.84,111.55 427.24,111.60 427.63,111.64 428.03,111.68 438.43,111.35 480.80,111.82" fill="none" stroke="#5b7bb9" stroke-width="1.0" stroke-linejoin="round"/>
<polyline points="339.55,111.73 367.46,111.73 367.91,88.71 368.37,82.74 370.06,82.40 371.75,82.10 373.45,81.84 375.14,81.61 376.84,81.41 378.54,81.24 380.23,81.09 381.93,80.96 383.62,80.84 385.31,80.74 387.01,80.65 388.70,80.58 390.40,80.51 392.10,80.45 393.79,80.40 395.49,80.36 397.18,80.32 398.88,80.29 400.57,80.26 402.26,80.23 403.96,80.21 405.66,80.19 407.35,80.17 409.05,80.16 410.74,80.14 412.44,80.13 414.13,80.12 415.82,80.11 417.52,80.11 419.22,80.10 418.82,80.05 419.33,87.37 419.72,93.81 420.12,98.50 420.51,101.94 420.91,104.45 421.31,106.29 421.70,107.65 422.10,108.65 422.49,109.38 422.89,109.93 423.28,110.34 423.68,110.65 424.07,110.89 424.47,111.06 424.87,111.20 425.26,111.31 425.66,111.40 426.05,111.47 426.45,111.53 426.84,111.58 427.24,111.62 427.63,111.66 428.03,111.69 438.43,111.35 480.80,111.82" fill="none" stroke="#7a76b4" stroke-width="1.0" stroke-linejoin="round"/>
<polyline points="339.55,111.73 367.46,111.73 367.91,98.61 368.37,95.13 370.06,94.83 371.75,94.57 373.45,94.34 375.14,94.15 376.84,93.98 378.54,93.82 380.23,93.69 381.93,93.58 383.62,93.48 385.31,93.39 387.01,93.32 388.70,93.25 390.40,93.19 392.10,93.14 393.79,93.10 395.49,93.06 397.18,93.03 398.88,93.00 400.57,92.97 402.26,92.95 403.96,92.93 405.66,92.91 407.35,92.90 409.05,92.89 410.74,92.87 412.44,92.86 414.13,92.86 415.82,92.85 417.52,92.84 419.22,92.84 418.82,92.80 419.33,96.64 419.72,100.55 420.12,103.41 420.51,105.51 420.91,107.05 421.31,108.18 421.70,109.02 422.10,109.65 422.49,110.11 422.89,110.46 423.28,110.73 423.68,110.93 424.07,111.09 424.47,111.21 424.87,111.31 425.26,111.39 425.66,111.46 426.05,111.51 426.45,111.56 426.84,111.60 427.24,111.64 427.63,111.67 428.03,111.70 438.43,111.35 480.80,111.82" fill="none" stroke="#4b6a84" stroke-width="1.0" stroke-linejoin="round"/>
<polyline points="339.55,111.73 367.46,111.73 367.91,104.30 368.37,99.20 370.06,99.72 371.75,100.07 373.45,100.32 375.14,100.49 376.84,100.60 378.54,100.68 380.23,100.74 381.93,100.77 383.62,100.80 385.31,100.82 387.01,100.83 388.70,100.84 390.40,100.84 392.10,100.85 393.79,100.85 395.49,100.85 397.18,100.85 398.88,100.85 400.57,100.85 402.26,100.86 403.96,100.86 405.66,100.86 407.35,100.86 409.05,100.86 410.74,100.86 412.44,100.86 414.13,100.86 415.82,100.86 417.52,100.86 419.22,100.86 418.82,100.86 419.33,102.51 419.72,104.82 420.12,106.51 420.51,107.76 420.91,108.69 421.31,109.38 421.70,109.89 422.10,110.28 422.49,110.57 422.89,110.80 423.28,110.97 423.68,111.11 424.07,111.22 424.47,111.31 424.87,111.38 425.26,111.44 425.66,111.49 426.05,111.54 426.45,111.58 426.84,111.61 427.24,111.65 427.63,111.67 428.03,111.70 438.43,111.35 480.80,111.82" fill="none" stroke="#3a3a3a" stroke-width="1.0" stroke-linejoin="round"/>
<line x1="438.20" y1="35.00" x2="453.80" y2="35.00" stroke="#6e4568" stroke-width="1.5"/>
<text x="462.99" y="38.00" font-size="8.95" text-anchor="start" fill="#1a1a1a" font-weight="bold" stroke="#1a1a1a" stroke-width="0.3">25.0</text>
<text x="484.56" y="38.00" font-size="9.12" text-anchor="start" fill="#1a1a1a" font-weight="bold" stroke="#1a1a1a" stroke-width="0.3">μmol/L</text>
<line x1="438.20" y1="46.30" x2="453.80" y2="46.30" stroke="#dc4b5e" stroke-width="1.5"/>
<text x="462.72" y="49.30" font-size="8.95" text-anchor="start" fill="#1a1a1a" font-weight="bold" stroke="#1a1a1a" stroke-width="0.3">12.5</text>
<text x="484.56" y="49.30" font-size="9.12" text-anchor="start" fill="#1a1a1a" font-weight="bold" stroke="#1a1a1a" stroke-width="0.3">μmol/L</text>
<line x1="438.20" y1="57.90" x2="453.80" y2="57.90" stroke="#5b7bb9" stroke-width="1.5"/>
<text x="462.99" y="60.90" font-size="8.95" text-anchor="start" fill="#1a1a1a" font-weight="bold" stroke="#1a1a1a" stroke-width="0.3">6.25</text>
<text x="484.56" y="60.90" font-size="9.12" text-anchor="start" fill="#1a1a1a" font-weight="bold" stroke="#1a1a1a" stroke-width="0.3">μmol/L</text>
<line x1="438.20" y1="69.10" x2="453.80" y2="69.10" stroke="#7a76b4" stroke-width="1.5"/>
<text x="463.08" y="72.10" font-size="8.95" text-anchor="start" fill="#1a1a1a" font-weight="bold" stroke="#1a1a1a" stroke-width="0.3">3.13</text>
<text x="484.56" y="72.10" font-size="9.12" text-anchor="start" fill="#1a1a1a" font-weight="bold" stroke="#1a1a1a" stroke-width="0.3">μmol/L</text>
<line x1="438.20" y1="80.60" x2="453.80" y2="80.60" stroke="#4b6a84" stroke-width="1.5"/>
<text x="462.72" y="83.60" font-size="8.95" text-anchor="start" fill="#1a1a1a" font-weight="bold" stroke="#1a1a1a" stroke-width="0.3">1.56</text>
<text x="484.56" y="83.60" font-size="9.12" text-anchor="start" fill="#1a1a1a" font-weight="bold" stroke="#1a1a1a" stroke-width="0.3">μmol/L</text>
<line x1="438.20" y1="91.80" x2="453.80" y2="91.80" stroke="#3a3a3a" stroke-width="1.5"/>
<text x="462.94" y="94.80" font-size="8.95" text-anchor="start" fill="#1a1a1a" font-weight="bold" stroke="#1a1a1a" stroke-width="0.3">0.78</text>
<text x="484.56" y="94.80" font-size="9.12" text-anchor="start" fill="#1a1a1a" font-weight="bold" stroke="#1a1a1a" stroke-width="0.3">μmol/L</text>
<line x1="34.00" y1="186.65" x2="34.00" y2="286.45" stroke="#111" stroke-width="1.2"/>
<line x1="30.40" y1="187.25" x2="34.00" y2="187.25" stroke="#111" stroke-width="1.2"/>
<text x="27.88" y="190.55" font-size="9.30" text-anchor="end" fill="#1a1a1a" font-weight="bold" stroke="#1a1a1a" stroke-width="0.3">1.5</text>
<line x1="30.40" y1="211.90" x2="34.00" y2="211.90" stroke="#111" stroke-width="1.2"/>
<text x="28.02" y="215.20" font-size="9.30" text-anchor="end" fill="#1a1a1a" font-weight="bold" stroke="#1a1a1a" stroke-width="0.3">1.0</text>
<line x1="30.40" y1="236.55" x2="34.00" y2="236.55" stroke="#111" stroke-width="1.2"/>
<text x="27.88" y="239.85" font-size="9.30" text-anchor="end" fill="#1a1a1a" font-weight="bold" stroke="#1a1a1a" stroke-width="0.3">0.5</text>
<line x1="30.40" y1="261.20" x2="34.00" y2="261.20" stroke="#111" stroke-width="1.2"/>
<text x="28.02" y="264.50" font-size="9.30" text-anchor="end" fill="#1a1a1a" font-weight="bold" stroke="#1a1a1a" stroke-width="0.3">0.0</text>
<line x1="30.40" y1="285.85" x2="34.00" y2="285.85" stroke="#111" stroke-width="1.2"/>
<text x="27.87" y="289.15" font-size="9.30" text-anchor="end" fill="#1a1a1a" font-weight="bold" stroke="#1a1a1a" stroke-width="0.3">−0.5</text>
<line x1="33.40" y1="286.20" x2="148.10" y2="286.20" stroke="#111" stroke-width="1.2"/>
<line x1="34.00" y1="286.20" x2="34.00" y2="289.60" stroke="#111" stroke-width="1.2"/>
<line x1="39.69" y1="286.20" x2="39.69" y2="288.20" stroke="#111" stroke-width="0.8"/>
<line x1="43.03" y1="286.20" x2="43.03" y2="288.20" stroke="#111" stroke-width="0.8"/>
<line x1="45.39" y1="286.20" x2="45.39" y2="288.20" stroke="#111" stroke-width="0.8"/>
<line x1="47.22" y1="286.20" x2="47.22" y2="288.20" stroke="#111" stroke-width="0.8"/>
<line x1="48.72" y1="286.20" x2="48.72" y2="288.20" stroke="#111" stroke-width="0.8"/>
<line x1="49.99" y1="286.20" x2="49.99" y2="288.20" stroke="#111" stroke-width="0.8"/>
<line x1="51.08" y1="286.20" x2="51.08" y2="288.20" stroke="#111" stroke-width="0.8"/>
<line x1="52.05" y1="286.20" x2="52.05" y2="288.20" stroke="#111" stroke-width="0.8"/>
<text x="24.41" y="300.60" font-size="8.4" fill="#1a1a1a" font-weight="bold" stroke="#1a1a1a" stroke-width="0.3">10<tspan font-size="5.8" dy="-3.4">−10</tspan></text>
<line x1="52.92" y1="286.20" x2="52.92" y2="289.60" stroke="#111" stroke-width="1.2"/>
<line x1="58.61" y1="286.20" x2="58.61" y2="288.20" stroke="#111" stroke-width="0.8"/>
<line x1="61.94" y1="286.20" x2="61.94" y2="288.20" stroke="#111" stroke-width="0.8"/>
<line x1="64.31" y1="286.20" x2="64.31" y2="288.20" stroke="#111" stroke-width="0.8"/>
<line x1="66.14" y1="286.20" x2="66.14" y2="288.20" stroke="#111" stroke-width="0.8"/>
<line x1="67.64" y1="286.20" x2="67.64" y2="288.20" stroke="#111" stroke-width="0.8"/>
<line x1="68.90" y1="286.20" x2="68.90" y2="288.20" stroke="#111" stroke-width="0.8"/>
<line x1="70.00" y1="286.20" x2="70.00" y2="288.20" stroke="#111" stroke-width="0.8"/>
<line x1="70.97" y1="286.20" x2="70.97" y2="288.20" stroke="#111" stroke-width="0.8"/>
<text x="44.94" y="300.60" font-size="8.4" fill="#1a1a1a" font-weight="bold" stroke="#1a1a1a" stroke-width="0.3">10<tspan font-size="5.8" dy="-3.4">−9</tspan></text>
<line x1="71.83" y1="286.20" x2="71.83" y2="289.60" stroke="#111" stroke-width="1.2"/>
<line x1="77.53" y1="286.20" x2="77.53" y2="288.20" stroke="#111" stroke-width="0.8"/>
<line x1="80.86" y1="286.20" x2="80.86" y2="288.20" stroke="#111" stroke-width="0.8"/>
<line x1="83.22" y1="286.20" x2="83.22" y2="288.20" stroke="#111" stroke-width="0.8"/>
<line x1="85.06" y1="286.20" x2="85.06" y2="288.20" stroke="#111" stroke-width="0.8"/>
<line x1="86.55" y1="286.20" x2="86.55" y2="288.20" stroke="#111" stroke-width="0.8"/>
<line x1="87.82" y1="286.20" x2="87.82" y2="288.20" stroke="#111" stroke-width="0.8"/>
<line x1="88.92" y1="286.20" x2="88.92" y2="288.20" stroke="#111" stroke-width="0.8"/>
<line x1="89.88" y1="286.20" x2="89.88" y2="288.20" stroke="#111" stroke-width="0.8"/>
<text x="63.86" y="300.60" font-size="8.4" fill="#1a1a1a" font-weight="bold" stroke="#1a1a1a" stroke-width="0.3">10<tspan font-size="5.8" dy="-3.4">−8</tspan></text>
<line x1="90.75" y1="286.20" x2="90.75" y2="289.60" stroke="#111" stroke-width="1.2"/>
<line x1="96.44" y1="286.20" x2="96.44" y2="288.20" stroke="#111" stroke-width="0.8"/>
<line x1="99.78" y1="286.20" x2="99.78" y2="288.20" stroke="#111" stroke-width="0.8"/>
<line x1="102.14" y1="286.20" x2="102.14" y2="288.20" stroke="#111" stroke-width="0.8"/>
<line x1="103.97" y1="286.20" x2="103.97" y2="288.20" stroke="#111" stroke-width="0.8"/>
<line x1="105.47" y1="286.20" x2="105.47" y2="288.20" stroke="#111" stroke-width="0.8"/>
<line x1="106.74" y1="286.20" x2="106.74" y2="288.20" stroke="#111" stroke-width="0.8"/>
<line x1="107.83" y1="286.20" x2="107.83" y2="288.20" stroke="#111" stroke-width="0.8"/>
<line x1="108.80" y1="286.20" x2="108.80" y2="288.20" stroke="#111" stroke-width="0.8"/>
<text x="82.77" y="300.60" font-size="8.4" fill="#1a1a1a" font-weight="bold" stroke="#1a1a1a" stroke-width="0.3">10<tspan font-size="5.8" dy="-3.4">−7</tspan></text>
<line x1="109.67" y1="286.20" x2="109.67" y2="289.60" stroke="#111" stroke-width="1.2"/>
<line x1="115.36" y1="286.20" x2="115.36" y2="288.20" stroke="#111" stroke-width="0.8"/>
<line x1="118.69" y1="286.20" x2="118.69" y2="288.20" stroke="#111" stroke-width="0.8"/>
<line x1="121.06" y1="286.20" x2="121.06" y2="288.20" stroke="#111" stroke-width="0.8"/>
<line x1="122.89" y1="286.20" x2="122.89" y2="288.20" stroke="#111" stroke-width="0.8"/>
<line x1="124.39" y1="286.20" x2="124.39" y2="288.20" stroke="#111" stroke-width="0.8"/>
<line x1="125.65" y1="286.20" x2="125.65" y2="288.20" stroke="#111" stroke-width="0.8"/>
<line x1="126.75" y1="286.20" x2="126.75" y2="288.20" stroke="#111" stroke-width="0.8"/>
<line x1="127.72" y1="286.20" x2="127.72" y2="288.20" stroke="#111" stroke-width="0.8"/>
<text x="101.69" y="300.60" font-size="8.4" fill="#1a1a1a" font-weight="bold" stroke="#1a1a1a" stroke-width="0.3">10<tspan font-size="5.8" dy="-3.4">−6</tspan></text>
<line x1="128.58" y1="286.20" x2="128.58" y2="289.60" stroke="#111" stroke-width="1.2"/>
<line x1="134.28" y1="286.20" x2="134.28" y2="288.20" stroke="#111" stroke-width="0.8"/>
<line x1="137.61" y1="286.20" x2="137.61" y2="288.20" stroke="#111" stroke-width="0.8"/>
<line x1="139.97" y1="286.20" x2="139.97" y2="288.20" stroke="#111" stroke-width="0.8"/>
<line x1="141.81" y1="286.20" x2="141.81" y2="288.20" stroke="#111" stroke-width="0.8"/>
<line x1="143.30" y1="286.20" x2="143.30" y2="288.20" stroke="#111" stroke-width="0.8"/>
<line x1="144.57" y1="286.20" x2="144.57" y2="288.20" stroke="#111" stroke-width="0.8"/>
<line x1="145.67" y1="286.20" x2="145.67" y2="288.20" stroke="#111" stroke-width="0.8"/>
<line x1="146.63" y1="286.20" x2="146.63" y2="288.20" stroke="#111" stroke-width="0.8"/>
<text x="120.61" y="300.60" font-size="8.4" fill="#1a1a1a" font-weight="bold" stroke="#1a1a1a" stroke-width="0.3">10<tspan font-size="5.8" dy="-3.4">−5</tspan></text>
<line x1="147.50" y1="286.20" x2="147.50" y2="289.60" stroke="#111" stroke-width="1.2"/>
<text x="139.52" y="300.60" font-size="8.4" fill="#1a1a1a" font-weight="bold" stroke="#1a1a1a" stroke-width="0.3">10<tspan font-size="5.8" dy="-3.4">−4</tspan></text>
<text x="0.00" y="0.00" font-size="9.64" text-anchor="start" fill="#1a1a1a" font-weight="bold" stroke="#1a1a1a" stroke-width="0.3" transform="translate(9.30 271.83) rotate(-90)">Fraction bound</text>
<text x="62.20" y="312.70" font-size="9.65" text-anchor="start" fill="#1a1a1a" font-weight="bold" stroke="#1a1a1a" stroke-width="0.3">WB436B (M)</text>
<line x1="35.50" y1="261.20" x2="147.50" y2="261.20" stroke="#111" stroke-width="1.0" stroke-dasharray="1.1 2.3"/>
<line x1="37.40" y1="262.00" x2="37.40" y2="268.00" stroke="#7b98cf" stroke-width="0.8"/>
<line x1="36.10" y1="262.00" x2="38.70" y2="262.00" stroke="#7b98cf" stroke-width="0.8"/>
<line x1="36.10" y1="268.00" x2="38.70" y2="268.00" stroke="#7b98cf" stroke-width="0.8"/>
<line x1="43.20" y1="254.10" x2="43.20" y2="272.10" stroke="#7b98cf" stroke-width="0.8"/>
<line x1="41.90" y1="254.10" x2="44.50" y2="254.10" stroke="#7b98cf" stroke-width="0.8"/>
<line x1="41.90" y1="272.10" x2="44.50" y2="272.10" stroke="#7b98cf" stroke-width="0.8"/>
<line x1="48.90" y1="253.40" x2="48.90" y2="267.40" stroke="#7b98cf" stroke-width="0.8"/>
<line x1="47.60" y1="253.40" x2="50.20" y2="253.40" stroke="#7b98cf" stroke-width="0.8"/>
<line x1="47.60" y1="267.40" x2="50.20" y2="267.40" stroke="#7b98cf" stroke-width="0.8"/>
<line x1="54.70" y1="254.40" x2="54.70" y2="266.40" stroke="#7b98cf" stroke-width="0.8"/>
<line x1="53.40" y1="254.40" x2="56.00" y2="254.40" stroke="#7b98cf" stroke-width="0.8"/>
<line x1="53.40" y1="266.40" x2="56.00" y2="266.40" stroke="#7b98cf" stroke-width="0.8"/>
<line x1="60.00" y1="253.80" x2="60.00" y2="267.80" stroke="#7b98cf" stroke-width="0.8"/>
<line x1="58.70" y1="253.80" x2="61.30" y2="253.80" stroke="#7b98cf" stroke-width="0.8"/>
<line x1="58.70" y1="267.80" x2="61.30" y2="267.80" stroke="#7b98cf" stroke-width="0.8"/>
<line x1="65.80" y1="248.00" x2="65.80" y2="262.00" stroke="#7b98cf" stroke-width="0.8"/>
<line x1="64.50" y1="248.00" x2="67.10" y2="248.00" stroke="#7b98cf" stroke-width="0.8"/>
<line x1="64.50" y1="262.00" x2="67.10" y2="262.00" stroke="#7b98cf" stroke-width="0.8"/>
<line x1="71.60" y1="250.60" x2="71.60" y2="258.60" stroke="#7b98cf" stroke-width="0.8"/>
<line x1="70.30" y1="250.60" x2="72.90" y2="250.60" stroke="#7b98cf" stroke-width="0.8"/>
<line x1="70.30" y1="258.60" x2="72.90" y2="258.60" stroke="#7b98cf" stroke-width="0.8"/>
<line x1="77.30" y1="249.40" x2="77.30" y2="259.40" stroke="#7b98cf" stroke-width="0.8"/>
<line x1="76.00" y1="249.40" x2="78.60" y2="249.40" stroke="#7b98cf" stroke-width="0.8"/>
<line x1="76.00" y1="259.40" x2="78.60" y2="259.40" stroke="#7b98cf" stroke-width="0.8"/>
<line x1="83.10" y1="239.80" x2="83.10" y2="257.80" stroke="#7b98cf" stroke-width="0.8"/>
<line x1="81.80" y1="239.80" x2="84.40" y2="239.80" stroke="#7b98cf" stroke-width="0.8"/>
<line x1="81.80" y1="257.80" x2="84.40" y2="257.80" stroke="#7b98cf" stroke-width="0.8"/>
<line x1="88.90" y1="231.90" x2="88.90" y2="245.90" stroke="#7b98cf" stroke-width="0.8"/>
<line x1="87.60" y1="231.90" x2="90.20" y2="231.90" stroke="#7b98cf" stroke-width="0.8"/>
<line x1="87.60" y1="245.90" x2="90.20" y2="245.90" stroke="#7b98cf" stroke-width="0.8"/>
<line x1="94.20" y1="233.90" x2="94.20" y2="243.90" stroke="#7b98cf" stroke-width="0.8"/>
<line x1="92.90" y1="233.90" x2="95.50" y2="233.90" stroke="#7b98cf" stroke-width="0.8"/>
<line x1="92.90" y1="243.90" x2="95.50" y2="243.90" stroke="#7b98cf" stroke-width="0.8"/>
<line x1="99.70" y1="226.10" x2="99.70" y2="240.10" stroke="#7b98cf" stroke-width="0.8"/>
<line x1="98.40" y1="226.10" x2="101.00" y2="226.10" stroke="#7b98cf" stroke-width="0.8"/>
<line x1="98.40" y1="240.10" x2="101.00" y2="240.10" stroke="#7b98cf" stroke-width="0.8"/>
<line x1="105.50" y1="215.70" x2="105.50" y2="229.70" stroke="#7b98cf" stroke-width="0.8"/>
<line x1="104.20" y1="215.70" x2="106.80" y2="215.70" stroke="#7b98cf" stroke-width="0.8"/>
<line x1="104.20" y1="229.70" x2="106.80" y2="229.70" stroke="#7b98cf" stroke-width="0.8"/>
<line x1="111.30" y1="210.30" x2="111.30" y2="228.30" stroke="#7b98cf" stroke-width="0.8"/>
<line x1="110.00" y1="210.30" x2="112.60" y2="210.30" stroke="#7b98cf" stroke-width="0.8"/>
<line x1="110.00" y1="228.30" x2="112.60" y2="228.30" stroke="#7b98cf" stroke-width="0.8"/>
<line x1="117.10" y1="203.50" x2="117.10" y2="223.50" stroke="#7b98cf" stroke-width="0.8"/>
<line x1="115.80" y1="203.50" x2="118.40" y2="203.50" stroke="#7b98cf" stroke-width="0.8"/>
<line x1="115.80" y1="223.50" x2="118.40" y2="223.50" stroke="#7b98cf" stroke-width="0.8"/>
<line x1="122.80" y1="208.10" x2="122.80" y2="222.10" stroke="#7b98cf" stroke-width="0.8"/>
<line x1="121.50" y1="208.10" x2="124.10" y2="208.10" stroke="#7b98cf" stroke-width="0.8"/>
<line x1="121.50" y1="222.10" x2="124.10" y2="222.10" stroke="#7b98cf" stroke-width="0.8"/>
<line x1="60.00" y1="261.20" x2="142.00" y2="261.20" stroke="#e86a6a" stroke-width="1.0"/>
<line x1="60.00" y1="261.20" x2="142.00" y2="261.20" stroke="#f0a040" stroke-width="1.0"/>
<line x1="60.00" y1="261.20" x2="142.00" y2="261.20" stroke="#a080c0" stroke-width="1.0"/>
<line x1="60.00" y1="261.20" x2="142.00" y2="261.20" stroke="#505050" stroke-width="1.0"/>
<line x1="60.00" y1="261.20" x2="142.00" y2="261.20" stroke="#3a1a4a" stroke-width="1.0"/>
<rect x="58.40" y="259.60" width="3.2" height="3.2" fill="#c05a90" stroke="#9a3a78" stroke-width="0.6"/>
<rect x="64.26" y="259.60" width="3.2" height="3.2" fill="#c05a90" stroke="#9a3a78" stroke-width="0.6"/>
<rect x="70.12" y="259.60" width="3.2" height="3.2" fill="#c05a90" stroke="#9a3a78" stroke-width="0.6"/>
<rect x="75.98" y="259.60" width="3.2" height="3.2" fill="#c05a90" stroke="#9a3a78" stroke-width="0.6"/>
<rect x="81.84" y="259.60" width="3.2" height="3.2" fill="#c05a90" stroke="#9a3a78" stroke-width="0.6"/>
<rect x="87.70" y="259.60" width="3.2" height="3.2" fill="#c05a90" stroke="#9a3a78" stroke-width="0.6"/>
<rect x="93.56" y="259.60" width="3.2" height="3.2" fill="#c05a90" stroke="#9a3a78" stroke-width="0.6"/>
<rect x="99.42" y="259.60" width="3.2" height="3.2" fill="#c05a90" stroke="#9a3a78" stroke-width="0.6"/>
<rect x="105.28" y="259.60" width="3.2" height="3.2" fill="#c05a90" stroke="#9a3a78" stroke-width="0.6"/>
<rect x="111.14" y="259.60" width="3.2" height="3.2" fill="#c05a90" stroke="#9a3a78" stroke-width="0.6"/>
<rect x="117.00" y="259.60" width="3.2" height="3.2" fill="#c05a90" stroke="#9a3a78" stroke-width="0.6"/>
<rect x="122.86" y="259.60" width="3.2" height="3.2" fill="#c05a90" stroke="#9a3a78" stroke-width="0.6"/>
<rect x="128.72" y="259.60" width="3.2" height="3.2" fill="#c05a90" stroke="#9a3a78" stroke-width="0.6"/>
<rect x="134.58" y="259.60" width="3.2" height="3.2" fill="#c05a90" stroke="#9a3a78" stroke-width="0.6"/>
<rect x="140.44" y="259.60" width="3.2" height="3.2" fill="#c05a90" stroke="#9a3a78" stroke-width="0.6"/>
<circle cx="145.50" cy="261.20" r="0.6" fill="#333"/>
<polyline points="36.84,260.98 37.90,260.96 38.97,260.94 40.03,260.91 41.09,260.87 42.16,260.84 43.22,260.80 44.29,260.76 45.35,260.71 46.41,260.66 47.48,260.60 48.54,260.53 49.61,260.46 50.67,260.38 51.73,260.29 52.80,260.20 53.86,260.09 54.93,259.97 55.99,259.84 57.05,259.70 58.12,259.54 59.18,259.37 60.25,259.17 61.31,258.96 62.38,258.73 63.44,258.48 64.50,258.20 65.57,257.89 66.63,257.56 67.70,257.19 68.76,256.80 69.82,256.37 70.89,255.90 71.95,255.39 73.02,254.84 74.08,254.24 75.14,253.61 76.21,252.92 77.27,252.19 78.34,251.40 79.40,250.57 80.46,249.69 81.53,248.76 82.59,247.78 83.66,246.76 84.72,245.70 85.78,244.59 86.85,243.45 87.91,242.28 88.98,241.08 90.04,239.87 91.10,238.64 92.17,237.40 93.23,236.16 94.30,234.93 95.36,233.71 96.43,232.51 97.49,231.33 98.55,230.19 99.62,229.08 100.68,228.00 101.75,226.97 102.81,225.99 103.87,225.05 104.94,224.16 106.00,223.32 107.07,222.53 108.13,221.79 109.19,221.09 110.26,220.45 111.32,219.84 112.39,219.29 113.45,218.77 114.51,218.29 115.58,217.86 116.64,217.45 117.71,217.08 118.77,216.74 119.83,216.43 120.90,216.15 121.96,215.89" fill="none" stroke="#2b4d98" stroke-width="1.3" stroke-linejoin="round"/>
<circle cx="37.40" cy="265.00" r="1.7" fill="#2b4d98"/>
<circle cx="43.20" cy="263.10" r="1.7" fill="#2b4d98"/>
<circle cx="48.90" cy="260.40" r="1.7" fill="#2b4d98"/>
<circle cx="54.70" cy="260.40" r="1.7" fill="#2b4d98"/>
<circle cx="60.00" cy="260.80" r="1.7" fill="#2b4d98"/>
<circle cx="65.80" cy="255.00" r="1.7" fill="#2b4d98"/>
<circle cx="71.60" cy="254.60" r="1.7" fill="#2b4d98"/>
<circle cx="77.30" cy="254.40" r="1.7" fill="#2b4d98"/>
<circle cx="83.10" cy="248.80" r="1.7" fill="#2b4d98"/>
<circle cx="88.90" cy="238.90" r="1.7" fill="#2b4d98"/>
<circle cx="94.20" cy="238.90" r="1.7" fill="#2b4d98"/>
<circle cx="99.70" cy="233.10" r="1.7" fill="#2b4d98"/>
<circle cx="105.50" cy="222.70" r="1.7" fill="#2b4d98"/>
<circle cx="111.30" cy="219.30" r="1.7" fill="#2b4d98"/>
<circle cx="117.10" cy="213.50" r="1.7" fill="#2b4d98"/>
<circle cx="122.80" cy="215.10" r="1.7" fill="#2b4d98"/>
<line x1="137.70" y1="191.00" x2="152.30" y2="191.00" stroke="#e86a6a" stroke-width="1.2"/>
<circle cx="145.00" cy="191.00" r="0.9" fill="#e86a6a"/>
<text x="157.83" y="194.20" font-size="9.00" text-anchor="start" fill="#1a1a1a" font-weight="bold" stroke="#1a1a1a" stroke-width="0.3">STAT1</text>
<line x1="137.70" y1="201.20" x2="152.30" y2="201.20" stroke="#3a1a4a" stroke-width="1.2"/>
<circle cx="145.00" cy="201.20" r="2.1" fill="#3a1a4a"/>
<text x="157.83" y="204.40" font-size="9.00" text-anchor="start" fill="#1a1a1a" font-weight="bold" stroke="#1a1a1a" stroke-width="0.3">STAT2</text>
<line x1="137.70" y1="211.50" x2="152.30" y2="211.50" stroke="#2b4d98" stroke-width="1.2"/>
<circle cx="145.00" cy="211.50" r="1.5" fill="#2b4d98"/>
<text x="157.83" y="214.70" font-size="9.00" text-anchor="start" fill="#1a1a1a" font-weight="bold" stroke="#1a1a1a" stroke-width="0.3">STAT3</text>
<line x1="137.70" y1="221.60" x2="152.30" y2="221.60" stroke="#f0a040" stroke-width="1.2"/>
<path d="M142.2,219.40 L147.8,219.40 L145,224.20 Z" fill="#f0a040"/>
<text x="157.83" y="224.80" font-size="9.00" text-anchor="start" fill="#1a1a1a" font-weight="bold" stroke="#1a1a1a" stroke-width="0.3">STAT4</text>
<line x1="137.70" y1="232.00" x2="152.30" y2="232.00" stroke="#a080c0" stroke-width="1.2"/>
<circle cx="145.00" cy="232.00" r="1.5" fill="#a080c0"/>
<text x="157.83" y="235.20" font-size="9.00" text-anchor="start" fill="#1a1a1a" font-weight="bold" stroke="#1a1a1a" stroke-width="0.3">STAT5B</text>
<line x1="137.70" y1="242.20" x2="152.30" y2="242.20" stroke="#505050" stroke-width="1.2"/>
<circle cx="145.00" cy="242.20" r="1.5" fill="#505050"/>
<text x="157.83" y="245.40" font-size="9.00" text-anchor="start" fill="#1a1a1a" font-weight="bold" stroke="#1a1a1a" stroke-width="0.3">STAT6</text>
<text x="308.19" y="171.30" font-size="10.87" text-anchor="start" fill="#1a1a1a" font-weight="bold" stroke="#1a1a1a" stroke-width="0.3">PANC-1</text>
<line x1="289.00" y1="174.30" x2="366.00" y2="174.30" stroke="#222" stroke-width="1.0"/>
<text x="413.91" y="171.30" font-size="10.64" text-anchor="start" fill="#1a1a1a" font-weight="bold" stroke="#1a1a1a" stroke-width="0.3">BxPC-3</text>
<line x1="393.00" y1="174.60" x2="469.20" y2="174.60" stroke="#222" stroke-width="1.0"/>
<text x="271.96" y="186.90" font-size="10.40" text-anchor="end" fill="#1a1a1a" font-weight="bold" stroke="#1a1a1a" stroke-width="0.3">IFNα</text>
<text x="229.10" y="201.80" font-size="10.66" text-anchor="start" fill="#1a1a1a" font-weight="bold" stroke="#1a1a1a" stroke-width="0.3">WB436B</text>
<text x="479.62" y="198.80" font-size="9.51" text-anchor="start" fill="#1a1a1a" font-weight="bold" stroke="#1a1a1a" stroke-width="0.3">(μmol/L)</text>
<text x="289.45" y="185.20" font-size="8.80" text-anchor="start" fill="#1a1a1a" font-weight="bold" stroke="#1a1a1a" stroke-width="0.45">−</text>
<text x="289.45" y="198.60" font-size="8.80" text-anchor="start" fill="#1a1a1a" font-weight="bold" stroke="#1a1a1a" stroke-width="0.45">−</text>
<text x="306.96" y="185.40" font-size="8.40" text-anchor="start" fill="#1a1a1a" font-weight="bold" stroke="#1a1a1a" stroke-width="0.45">+</text>
<text x="0.00" y="0.00" font-size="8.30" text-anchor="start" fill="#1a1a1a" font-weight="bold" stroke="#1a1a1a" stroke-width="0.3" transform="translate(312.30 198.48) rotate(-90)">0</text>
<text x="325.26" y="185.40" font-size="8.40" text-anchor="start" fill="#1a1a1a" font-weight="bold" stroke="#1a1a1a" stroke-width="0.45">+</text>
<text x="0.00" y="0.00" font-size="8.30" text-anchor="start" fill="#1a1a1a" font-weight="bold" stroke="#1a1a1a" stroke-width="0.3" transform="translate(330.60 204.27) rotate(-90)">0.03</text>
<text x="343.56" y="185.40" font-size="8.40" text-anchor="start" fill="#1a1a1a" font-weight="bold" stroke="#1a1a1a" stroke-width="0.45">+</text>
<text x="0.00" y="0.00" font-size="8.30" text-anchor="start" fill="#1a1a1a" font-weight="bold" stroke="#1a1a1a" stroke-width="0.3" transform="translate(348.90 202.01) rotate(-90)">0.1</text>
<text x="361.76" y="185.40" font-size="8.40" text-anchor="start" fill="#1a1a1a" font-weight="bold" stroke="#1a1a1a" stroke-width="0.45">+</text>
<text x="0.00" y="0.00" font-size="8.30" text-anchor="start" fill="#1a1a1a" font-weight="bold" stroke="#1a1a1a" stroke-width="0.3" transform="translate(367.10 201.97) rotate(-90)">0.3</text>
<text x="390.95" y="185.20" font-size="8.80" text-anchor="start" fill="#1a1a1a" font-weight="bold" stroke="#1a1a1a" stroke-width="0.45">−</text>
<text x="390.95" y="198.60" font-size="8.80" text-anchor="start" fill="#1a1a1a" font-weight="bold" stroke="#1a1a1a" stroke-width="0.45">−</text>
<text x="412.56" y="185.40" font-size="8.40" text-anchor="start" fill="#1a1a1a" font-weight="bold" stroke="#1a1a1a" stroke-width="0.45">+</text>
<text x="0.00" y="0.00" font-size="8.30" text-anchor="start" fill="#1a1a1a" font-weight="bold" stroke="#1a1a1a" stroke-width="0.3" transform="translate(417.90 198.48) rotate(-90)">0</text>
<text x="429.86" y="185.40" font-size="8.40" text-anchor="start" fill="#1a1a1a" font-weight="bold" stroke="#1a1a1a" stroke-width="0.45">+</text>
<text x="0.00" y="0.00" font-size="8.30" text-anchor="start" fill="#1a1a1a" font-weight="bold" stroke="#1a1a1a" stroke-width="0.3" transform="translate(435.20 204.27) rotate(-90)">0.03</text>
<text x="448.86" y="185.40" font-size="8.40" text-anchor="start" fill="#1a1a1a" font-weight="bold" stroke="#1a1a1a" stroke-width="0.45">+</text>
<text x="0.00" y="0.00" font-size="8.30" text-anchor="start" fill="#1a1a1a" font-weight="bold" stroke="#1a1a1a" stroke-width="0.3" transform="translate(454.20 202.01) rotate(-90)">0.1</text>
<text x="466.26" y="185.40" font-size="8.40" text-anchor="start" fill="#1a1a1a" font-weight="bold" stroke="#1a1a1a" stroke-width="0.45">+</text>
<text x="0.00" y="0.00" font-size="8.30" text-anchor="start" fill="#1a1a1a" font-weight="bold" stroke="#1a1a1a" stroke-width="0.3" transform="translate(471.60 201.97) rotate(-90)">0.3</text>
<rect x="280.60" y="207.20" width="96.30" height="18.40" fill="#d9d9d9" stroke="#333" stroke-width="1.15"/>
<rect x="380.80" y="207.20" width="93.00" height="18.40" fill="#d9d9d9" stroke="#333" stroke-width="1.15"/>
<rect x="280.60" y="227.40" width="96.30" height="18.20" fill="#d9d9d9" stroke="#333" stroke-width="1.15"/>
<rect x="380.80" y="227.40" width="93.00" height="18.20" fill="#d9d9d9" stroke="#333" stroke-width="1.15"/>
<rect x="280.60" y="247.40" width="96.30" height="18.00" fill="#d9d9d9" stroke="#333" stroke-width="1.15"/>
<rect x="380.80" y="247.40" width="93.00" height="18.00" fill="#d9d9d9" stroke="#333" stroke-width="1.15"/>
<rect x="280.60" y="267.40" width="96.30" height="18.00" fill="#d9d9d9" stroke="#333" stroke-width="1.15"/>
<rect x="380.80" y="267.40" width="93.00" height="18.00" fill="#d9d9d9" stroke="#333" stroke-width="1.15"/>
<rect x="280.60" y="287.60" width="96.30" height="17.80" fill="#d9d9d9" stroke="#333" stroke-width="1.15"/>
<rect x="380.80" y="287.60" width="93.00" height="17.80" fill="#d9d9d9" stroke="#333" stroke-width="1.15"/>
<text x="250.46" y="219.50" font-size="7.00" text-anchor="start" fill="#1a1a1a" font-weight="bold" stroke="#1a1a1a" stroke-width="0.3">Tyr701</text>
<text x="249.74" y="223.30" font-size="11.00" text-anchor="end" fill="#1a1a1a" font-weight="bold" stroke="#1a1a1a" stroke-width="0.3">p-STAT1</text>
<text x="272.32" y="242.60" font-size="11.00" text-anchor="end" fill="#1a1a1a" font-weight="bold" stroke="#1a1a1a" stroke-width="0.3">STAT1</text>
<text x="250.46" y="258.60" font-size="7.00" text-anchor="start" fill="#1a1a1a" font-weight="bold" stroke="#1a1a1a" stroke-width="0.3">Tyr705</text>
<text x="249.85" y="262.40" font-size="11.00" text-anchor="end" fill="#1a1a1a" font-weight="bold" stroke="#1a1a1a" stroke-width="0.3">p-STAT3</text>
<text x="272.43" y="282.80" font-size="11.00" text-anchor="end" fill="#1a1a1a" font-weight="bold" stroke="#1a1a1a" stroke-width="0.3">STAT3</text>
<text x="273.09" y="302.80" font-size="11.00" text-anchor="end" fill="#1a1a1a" font-weight="bold" stroke="#1a1a1a" stroke-width="0.3">GAPDH</text>
<rect x="284.50" y="214.80" width="8.00" height="1.60" rx="0.80" fill="rgb(152,152,152)" filter="url(#b1)"/>
<rect x="302.95" y="213.00" width="14.50" height="4.40" rx="2.20" fill="rgb(12,12,12)" filter="url(#b1)"/>
<rect x="303.45" y="217.90" width="13.50" height="2.00" rx="1.00" fill="rgb(92,92,92)" filter="url(#b1)"/>
<rect x="320.35" y="213.00" width="14.50" height="4.40" rx="2.20" fill="rgb(12,12,12)" filter="url(#b1)"/>
<rect x="320.85" y="217.90" width="13.50" height="2.00" rx="1.00" fill="rgb(92,92,92)" filter="url(#b1)"/>
<rect x="338.55" y="213.00" width="14.50" height="4.40" rx="2.20" fill="rgb(12,12,12)" filter="url(#b1)"/>
<rect x="339.05" y="217.90" width="13.50" height="2.00" rx="1.00" fill="rgb(92,92,92)" filter="url(#b1)"/>
<rect x="357.35" y="213.00" width="14.50" height="4.40" rx="2.20" fill="rgb(12,12,12)" filter="url(#b1)"/>
<rect x="402.65" y="214.60" width="14.50" height="3.80" rx="1.90" fill="rgb(12,12,12)" filter="url(#b1)"/>
<rect x="403.15" y="219.85" width="13.50" height="1.90" rx="0.95" fill="rgb(82,82,82)" filter="url(#b1)"/>
<rect x="419.45" y="214.60" width="14.50" height="3.80" rx="1.90" fill="rgb(12,12,12)" filter="url(#b1)"/>
<rect x="419.95" y="219.85" width="13.50" height="1.90" rx="0.95" fill="rgb(82,82,82)" filter="url(#b1)"/>
<rect x="437.05" y="214.60" width="14.50" height="3.80" rx="1.90" fill="rgb(12,12,12)" filter="url(#b1)"/>
<rect x="437.55" y="219.85" width="13.50" height="1.90" rx="0.95" fill="rgb(82,82,82)" filter="url(#b1)"/>
<rect x="455.35" y="214.60" width="14.50" height="3.80" rx="1.90" fill="rgb(12,12,12)" filter="url(#b1)"/>
<rect x="455.85" y="219.85" width="13.50" height="1.90" rx="0.95" fill="rgb(82,82,82)" filter="url(#b1)"/>
<rect x="283.25" y="233.40" width="16.50" height="7.80" rx="2.20" fill="rgb(12,12,12)" filter="url(#b1)"/>
<rect x="301.95" y="233.40" width="16.50" height="7.80" rx="2.20" fill="rgb(12,12,12)" filter="url(#b1)"/>
<rect x="319.35" y="233.40" width="16.50" height="7.80" rx="2.20" fill="rgb(12,12,12)" filter="url(#b1)"/>
<rect x="337.55" y="233.40" width="16.50" height="7.80" rx="2.20" fill="rgb(12,12,12)" filter="url(#b1)"/>
<rect x="356.35" y="233.40" width="16.50" height="7.80" rx="2.20" fill="rgb(12,12,12)" filter="url(#b1)"/>
<rect x="383.45" y="234.60" width="16.50" height="7.20" rx="2.20" fill="rgb(12,12,12)" filter="url(#b1)"/>
<rect x="401.65" y="234.60" width="16.50" height="7.20" rx="2.20" fill="rgb(12,12,12)" filter="url(#b1)"/>
<rect x="418.45" y="234.60" width="16.50" height="7.20" rx="2.20" fill="rgb(12,12,12)" filter="url(#b1)"/>
<rect x="436.05" y="234.60" width="16.50" height="7.20" rx="2.20" fill="rgb(12,12,12)" filter="url(#b1)"/>
<rect x="454.35" y="234.60" width="16.50" height="7.20" rx="2.20" fill="rgb(12,12,12)" filter="url(#b1)"/>
<rect x="303.20" y="255.00" width="14.00" height="3.60" rx="1.80" fill="rgb(12,12,12)" filter="url(#b1)"/>
<rect x="320.60" y="255.50" width="14.00" height="2.60" rx="1.30" fill="rgb(42,42,42)" filter="url(#b1)"/>
<rect x="338.80" y="255.90" width="14.00" height="1.80" rx="0.90" fill="rgb(101,101,101)" filter="url(#b1)"/>
<rect x="401.90" y="254.70" width="16.00" height="4.20" rx="2.10" fill="rgb(12,12,12)" filter="url(#b1)"/>
<rect x="419.70" y="255.30" width="14.00" height="3.00" rx="1.50" fill="rgb(22,22,22)" filter="url(#b1)"/>
<rect x="283.25" y="274.80" width="16.50" height="3.20" rx="1.60" fill="rgb(12,12,12)" filter="url(#b1)"/>
<rect x="301.95" y="274.80" width="16.50" height="3.20" rx="1.60" fill="rgb(12,12,12)" filter="url(#b1)"/>
<rect x="319.35" y="274.80" width="16.50" height="3.20" rx="1.60" fill="rgb(12,12,12)" filter="url(#b1)"/>
<rect x="337.55" y="274.80" width="16.50" height="3.20" rx="1.60" fill="rgb(12,12,12)" filter="url(#b1)"/>
<rect x="356.35" y="274.10" width="16.50" height="4.60" rx="2.30" fill="rgb(12,12,12)" filter="url(#b1)"/>
<rect x="383.70" y="275.80" width="16.00" height="4.00" rx="2.00" fill="rgb(12,12,12)" filter="url(#b1)"/>
<rect x="401.90" y="275.80" width="16.00" height="4.00" rx="2.00" fill="rgb(12,12,12)" filter="url(#b1)"/>
<rect x="418.70" y="275.80" width="16.00" height="4.00" rx="2.00" fill="rgb(12,12,12)" filter="url(#b1)"/>
<rect x="436.30" y="275.80" width="16.00" height="4.00" rx="2.00" fill="rgb(12,12,12)" filter="url(#b1)"/>
<rect x="454.60" y="275.80" width="16.00" height="4.00" rx="2.00" fill="rgb(12,12,12)" filter="url(#b1)"/>
<rect x="282.50" y="294.40" width="18.00" height="5.80" rx="2.20" fill="rgb(12,12,12)" filter="url(#b1)"/>
<rect x="301.20" y="294.40" width="18.00" height="5.80" rx="2.20" fill="rgb(12,12,12)" filter="url(#b1)"/>
<rect x="318.60" y="294.40" width="18.00" height="5.80" rx="2.20" fill="rgb(12,12,12)" filter="url(#b1)"/>
<rect x="336.80" y="294.40" width="18.00" height="5.80" rx="2.20" fill="rgb(12,12,12)" filter="url(#b1)"/>
<rect x="355.60" y="294.40" width="18.00" height="5.80" rx="2.20" fill="rgb(12,12,12)" filter="url(#b1)"/>
<rect x="382.70" y="294.60" width="18.00" height="5.80" rx="2.20" fill="rgb(12,12,12)" filter="url(#b1)"/>
<rect x="400.90" y="294.60" width="18.00" height="5.80" rx="2.20" fill="rgb(12,12,12)" filter="url(#b1)"/>
<rect x="417.70" y="294.60" width="18.00" height="5.80" rx="2.20" fill="rgb(12,12,12)" filter="url(#b1)"/>
<rect x="435.30" y="294.60" width="18.00" height="5.80" rx="2.20" fill="rgb(12,12,12)" filter="url(#b1)"/>
<rect x="453.60" y="294.60" width="18.00" height="5.80" rx="2.20" fill="rgb(12,12,12)" filter="url(#b1)"/>
<text x="8.10" y="356.60" font-size="9.79" text-anchor="start" fill="#1a1a1a" font-weight="bold" stroke="#1a1a1a" stroke-width="0.3">WB436B</text>
<text x="0.00" y="0.00" font-size="9.40" text-anchor="start" fill="#1a1a1a" font-weight="bold" stroke="#1a1a1a" stroke-width="0.25" transform="translate(62.30 356.18) rotate(-90)">0</text>
<text x="0.00" y="0.00" font-size="9.40" text-anchor="start" fill="#1a1a1a" font-weight="bold" stroke="#1a1a1a" stroke-width="0.25" transform="translate(76.20 356.18) rotate(-90)">0.03</text>
<text x="0.00" y="0.00" font-size="9.40" text-anchor="start" fill="#1a1a1a" font-weight="bold" stroke="#1a1a1a" stroke-width="0.25" transform="translate(89.70 356.18) rotate(-90)">0.1</text>
<text x="0.00" y="0.00" font-size="9.40" text-anchor="start" fill="#1a1a1a" font-weight="bold" stroke="#1a1a1a" stroke-width="0.25" transform="translate(103.90 356.18) rotate(-90)">0.3</text>
<text x="110.92" y="353.70" font-size="9.51" text-anchor="start" fill="#1a1a1a" font-weight="bold" stroke="#1a1a1a" stroke-width="0.3">(μmol/L)</text>
<rect x="51.00" y="360.10" width="60.00" height="17.10" fill="#d6d6d6" stroke="#1e1e1e" stroke-width="1.05"/>
<text x="47.40" y="372.75" font-size="9.80" text-anchor="end" fill="#1a1a1a" font-weight="bold" stroke="#1a1a1a" stroke-width="0.3">p-JAK1</text>
<rect x="51.00" y="379.20" width="60.00" height="17.00" fill="#e0e0e0" stroke="#1e1e1e" stroke-width="1.05"/>
<text x="47.42" y="391.80" font-size="9.80" text-anchor="end" fill="#1a1a1a" font-weight="bold" stroke="#1a1a1a" stroke-width="0.3">p-STAT1</text>
<rect x="51.00" y="398.30" width="60.00" height="17.20" fill="#e0e0e0" stroke="#1e1e1e" stroke-width="1.05"/>
<text x="47.52" y="411.00" font-size="9.80" text-anchor="end" fill="#e3262f" font-weight="bold" stroke="#e3262f" stroke-width="0.3">p-STAT3</text>
<rect x="51.00" y="417.40" width="60.00" height="17.40" fill="#e0e0e0" stroke="#1e1e1e" stroke-width="1.05"/>
<text x="47.42" y="430.20" font-size="9.80" text-anchor="end" fill="#1a1a1a" font-weight="bold" stroke="#1a1a1a" stroke-width="0.3">p-STAT5</text>
<rect x="51.00" y="436.90" width="60.00" height="17.20" fill="#e0e0e0" stroke="#1e1e1e" stroke-width="1.05"/>
<text x="47.24" y="449.60" font-size="9.80" text-anchor="end" fill="#1a1a1a" font-weight="bold" stroke="#1a1a1a" stroke-width="0.3">p-AKT</text>
<rect x="51.00" y="456.20" width="60.00" height="17.10" fill="#e0e0e0" stroke="#1e1e1e" stroke-width="1.05"/>
<text x="47.55" y="468.85" font-size="9.80" text-anchor="end" fill="#1a1a1a" font-weight="bold" stroke="#1a1a1a" stroke-width="0.3">p-ERK1/2</text>
<rect x="51.00" y="475.10" width="60.00" height="17.60" fill="#e0e0e0" stroke="#1e1e1e" stroke-width="1.05"/>
<text x="47.80" y="488.00" font-size="9.80" text-anchor="end" fill="#1a1a1a" font-weight="bold" stroke="#1a1a1a" stroke-width="0.3">GAPDH</text>
<rect x="52.0" y="361" width="2.7" height="15.5" fill="#dadada" opacity="0.6" filter="url(#b1)"/>
<rect x="56.3" y="361" width="2.2" height="15.5" fill="#dadada" opacity="0.6" filter="url(#b1)"/>
<rect x="60.6" y="361" width="2.8" height="15.5" fill="#e2e2e2" opacity="0.6" filter="url(#b1)"/>
<rect x="64.9" y="361" width="2.7" height="15.5" fill="#c4c4c4" opacity="0.6" filter="url(#b1)"/>
<rect x="69.2" y="361" width="2.0" height="15.5" fill="#e2e2e2" opacity="0.6" filter="url(#b1)"/>
<rect x="73.5" y="361" width="1.9" height="15.5" fill="#dadada" opacity="0.6" filter="url(#b1)"/>
<rect x="77.8" y="361" width="2.6" height="15.5" fill="#e2e2e2" opacity="0.6" filter="url(#b1)"/>
<rect x="82.1" y="361" width="2.3" height="15.5" fill="#e2e2e2" opacity="0.6" filter="url(#b1)"/>
<rect x="86.4" y="361" width="2.0" height="15.5" fill="#dadada" opacity="0.6" filter="url(#b1)"/>
<rect x="90.7" y="361" width="3.2" height="15.5" fill="#dadada" opacity="0.6" filter="url(#b1)"/>
<rect x="95.0" y="361" width="3.0" height="15.5" fill="#e2e2e2" opacity="0.6" filter="url(#b1)"/>
<rect x="99.3" y="361" width="1.8" height="15.5" fill="#c4c4c4" opacity="0.6" filter="url(#b1)"/>
<rect x="103.6" y="361" width="2.1" height="15.5" fill="#c4c4c4" opacity="0.6" filter="url(#b1)"/>
<rect x="107.9" y="361" width="3.1" height="15.5" fill="#c4c4c4" opacity="0.6" filter="url(#b1)"/>
<rect x="52.25" y="366.60" width="12.50" height="2.00" rx="1.00" fill="rgb(67,67,67)" filter="url(#b1)"/>
<rect x="52.25" y="370.05" width="12.50" height="2.30" rx="1.15" fill="rgb(42,42,42)" filter="url(#b1)"/>
<rect x="67.05" y="366.60" width="12.50" height="2.00" rx="1.00" fill="rgb(59,59,59)" filter="url(#b1)"/>
<rect x="67.05" y="370.05" width="12.50" height="2.30" rx="1.15" fill="rgb(31,31,31)" filter="url(#b1)"/>
<rect x="81.15" y="366.60" width="12.50" height="2.00" rx="1.00" fill="rgb(59,59,59)" filter="url(#b1)"/>
<rect x="81.15" y="370.05" width="12.50" height="2.30" rx="1.15" fill="rgb(31,31,31)" filter="url(#b1)"/>
<rect x="95.25" y="366.60" width="12.50" height="2.00" rx="1.00" fill="rgb(67,67,67)" filter="url(#b1)"/>
<rect x="95.25" y="370.05" width="12.50" height="2.30" rx="1.15" fill="rgb(42,42,42)" filter="url(#b1)"/>
<rect x="51.60" y="384.90" width="13.80" height="5.60" rx="2.20" fill="rgb(12,12,12)" filter="url(#b1)"/>
<rect x="66.40" y="385.20" width="13.80" height="5.00" rx="2.20" fill="rgb(12,12,12)" filter="url(#b1)"/>
<rect x="80.50" y="384.90" width="13.80" height="5.60" rx="2.20" fill="rgb(12,12,12)" filter="url(#b1)"/>
<rect x="94.60" y="385.10" width="13.80" height="5.20" rx="2.20" fill="rgb(12,12,12)" filter="url(#b1)"/>
<rect x="51.50" y="401.90" width="14.00" height="6.20" rx="2.20" fill="rgb(12,12,12)" filter="url(#b1)"/>
<rect x="67.05" y="402.50" width="12.50" height="5.00" rx="2.20" fill="rgb(12,12,12)" filter="url(#b1)"/>
<rect x="82.90" y="403.70" width="9.00" height="2.60" rx="2.20" fill="rgb(42,42,42)" filter="url(#b1)"/>
<rect x="97.00" y="404.10" width="9.00" height="1.80" rx="2.20" fill="rgb(152,152,152)" filter="url(#b1)"/>
<rect x="51.60" y="421.90" width="13.80" height="6.20" rx="2.20" fill="rgb(12,12,12)" filter="url(#b1)"/>
<rect x="66.40" y="422.40" width="13.80" height="5.20" rx="2.20" fill="rgb(12,12,12)" filter="url(#b1)"/>
<rect x="80.50" y="422.80" width="13.80" height="4.40" rx="2.20" fill="rgb(12,12,12)" filter="url(#b1)"/>
<rect x="94.60" y="422.40" width="13.80" height="5.20" rx="2.20" fill="rgb(12,12,12)" filter="url(#b1)"/>
<rect x="52.50" y="429.00" width="12.00" height="2.00" rx="1.00" fill="rgb(188,188,188)" filter="url(#b2)"/>
<rect x="67.30" y="429.00" width="12.00" height="2.00" rx="1.00" fill="rgb(188,188,188)" filter="url(#b2)"/>
<rect x="81.40" y="429.00" width="12.00" height="2.00" rx="1.00" fill="rgb(188,188,188)" filter="url(#b2)"/>
<rect x="95.50" y="429.00" width="12.00" height="2.00" rx="1.00" fill="rgb(188,188,188)" filter="url(#b2)"/>
<rect x="51.75" y="443.00" width="13.50" height="5.20" rx="2.00" fill="rgb(12,12,12)" filter="url(#b1)"/>
<rect x="66.55" y="443.20" width="13.50" height="4.80" rx="2.00" fill="rgb(12,12,12)" filter="url(#b1)"/>
<rect x="80.65" y="443.40" width="13.50" height="4.40" rx="2.00" fill="rgb(12,12,12)" filter="url(#b1)"/>
<rect x="94.75" y="443.50" width="13.50" height="4.20" rx="2.00" fill="rgb(12,12,12)" filter="url(#b1)"/>
<rect x="51.30" y="461.00" width="14.00" height="8.40" rx="2.50" fill="rgb(12,12,12)" filter="url(#b1)"/>
<rect x="66.55" y="461.90" width="13.50" height="3.00" rx="1.50" fill="rgb(12,12,12)" filter="url(#b1)"/>
<rect x="66.55" y="466.10" width="13.50" height="3.00" rx="1.50" fill="rgb(12,12,12)" filter="url(#b1)"/>
<rect x="80.65" y="461.90" width="13.50" height="3.00" rx="1.50" fill="rgb(12,12,12)" filter="url(#b1)"/>
<rect x="80.65" y="466.10" width="13.50" height="3.00" rx="1.50" fill="rgb(12,12,12)" filter="url(#b1)"/>
<rect x="94.75" y="461.90" width="13.50" height="3.00" rx="1.50" fill="rgb(12,12,12)" filter="url(#b1)"/>
<rect x="94.75" y="466.10" width="13.50" height="3.00" rx="1.50" fill="rgb(12,12,12)" filter="url(#b1)"/>
<rect x="51.00" y="479.90" width="15.00" height="7.00" rx="2.50" fill="rgb(12,12,12)" filter="url(#b1)"/>
<rect x="65.80" y="479.60" width="15.00" height="7.60" rx="2.50" fill="rgb(12,12,12)" filter="url(#b1)"/>
<rect x="79.90" y="479.90" width="15.00" height="7.00" rx="2.50" fill="rgb(12,12,12)" filter="url(#b1)"/>
<rect x="94.00" y="479.80" width="15.00" height="7.20" rx="2.50" fill="rgb(12,12,12)" filter="url(#b1)"/>
<rect x="53.80" y="489.20" width="6.00" height="1.60" rx="0.80" fill="rgb(22,22,22)" filter="url(#b1)"/>
<text x="0.00" y="0.00" font-size="8.60" text-anchor="start" fill="#1a1a1a" font-weight="bold" stroke="#1a1a1a" stroke-width="0.25" transform="translate(203.00 387.14) rotate(-90)">Ctrl</text>
<text x="0.00" y="0.00" font-size="8.60" text-anchor="start" fill="#1a1a1a" font-weight="bold" stroke="#1a1a1a" stroke-width="0.25" transform="translate(214.50 387.14) rotate(-90)">0.1</text>
<text x="0.00" y="0.00" font-size="8.60" text-anchor="start" fill="#1a1a1a" font-weight="bold" stroke="#1a1a1a" stroke-width="0.25" transform="translate(227.30 387.14) rotate(-90)">0.3</text>
<text x="0.00" y="0.00" font-size="8.60" text-anchor="start" fill="#1a1a1a" font-weight="bold" stroke="#1a1a1a" stroke-width="0.25" transform="translate(238.10 387.36) rotate(-90)">1</text>
<text x="0.00" y="0.00" font-size="8.60" text-anchor="start" fill="#1a1a1a" font-weight="bold" stroke="#1a1a1a" stroke-width="0.25" transform="translate(247.50 387.01) rotate(-90)">3</text>
<text x="0.00" y="0.00" font-size="8.60" text-anchor="start" fill="#1a1a1a" font-weight="bold" stroke="#1a1a1a" stroke-width="0.25" transform="translate(258.90 387.36) rotate(-90)">10</text>
<text x="0.00" y="0.00" font-size="8.60" text-anchor="start" fill="#1a1a1a" font-weight="bold" stroke="#1a1a1a" stroke-width="0.25" transform="translate(271.50 387.01) rotate(-90)">3</text>
<text x="0.00" y="0.00" font-size="8.60" text-anchor="start" fill="#1a1a1a" font-weight="bold" stroke="#1a1a1a" stroke-width="0.25" transform="translate(283.50 387.36) rotate(-90)">10</text>
<text x="0.00" y="0.00" font-size="8.60" text-anchor="start" fill="#1a1a1a" font-weight="bold" stroke="#1a1a1a" stroke-width="0.25" transform="translate(293.60 387.01) rotate(-90)">3</text>
<text x="0.00" y="0.00" font-size="8.60" text-anchor="start" fill="#1a1a1a" font-weight="bold" stroke="#1a1a1a" stroke-width="0.25" transform="translate(304.20 387.36) rotate(-90)">10</text>
<text x="0.00" y="0.00" font-size="8.60" text-anchor="start" fill="#1a1a1a" font-weight="bold" stroke="#1a1a1a" stroke-width="0.25" transform="translate(315.70 387.36) rotate(-90)">10</text>
<text x="0.00" y="0.00" font-size="8.60" text-anchor="start" fill="#1a1a1a" font-weight="bold" stroke="#1a1a1a" stroke-width="0.25" transform="translate(328.20 387.01) rotate(-90)">30</text>
<text x="0.00" y="0.00" font-size="8.60" text-anchor="start" fill="#1a1a1a" font-weight="bold" stroke="#1a1a1a" stroke-width="0.25" transform="translate(339.70 387.36) rotate(-90)">10</text>
<text x="0.00" y="0.00" font-size="8.60" text-anchor="start" fill="#1a1a1a" font-weight="bold" stroke="#1a1a1a" stroke-width="0.25" transform="translate(352.20 387.01) rotate(-90)">30</text>
<text x="356.93" y="387.70" font-size="9.38" text-anchor="start" fill="#1a1a1a" font-weight="bold" stroke="#1a1a1a" stroke-width="0.3">(μmol/L)</text>
<text x="0.00" y="0.00" font-size="9.60" text-anchor="start" fill="#1a1a1a" font-weight="bold" stroke="#1a1a1a" stroke-width="0.3" transform="translate(214.60 372.40) rotate(-34)">WB436B</text>
<line x1="212.20" y1="374.20" x2="223.60" y2="374.20" stroke="#222" stroke-width="1.0"/>
<text x="0.00" y="0.00" font-size="9.60" text-anchor="start" fill="#1a1a1a" font-weight="bold" stroke="#1a1a1a" stroke-width="0.3" transform="translate(246.20 374.00) rotate(-34)">AZD1480</text>
<line x1="235.00" y1="374.20" x2="256.60" y2="374.20" stroke="#222" stroke-width="1.0"/>
<text x="0.00" y="0.00" font-size="9.60" text-anchor="start" fill="#1a1a1a" font-weight="bold" stroke="#1a1a1a" stroke-width="0.3" transform="translate(270.80 373.00) rotate(-34)">Stattic</text>
<line x1="266.00" y1="374.20" x2="278.50" y2="374.20" stroke="#222" stroke-width="1.0"/>
<text x="0.00" y="0.00" font-size="9.60" text-anchor="start" fill="#1a1a1a" font-weight="bold" stroke="#1a1a1a" stroke-width="0.3" transform="translate(295.30 373.00) rotate(-34)">BBI-608</text>
<line x1="291.50" y1="374.20" x2="302.70" y2="374.20" stroke="#222" stroke-width="1.0"/>
<text x="0.00" y="0.00" font-size="9.60" text-anchor="start" fill="#1a1a1a" font-weight="bold" stroke="#1a1a1a" stroke-width="0.3" transform="translate(318.60 373.00) rotate(-34)">C188-9</text>
<line x1="313.70" y1="374.20" x2="325.20" y2="374.20" stroke="#222" stroke-width="1.0"/>
<text x="0.00" y="0.00" font-size="9.60" text-anchor="start" fill="#1a1a1a" font-weight="bold" stroke="#1a1a1a" stroke-width="0.3" transform="translate(343.20 372.80) rotate(-34)">BP-1-102</text>
<line x1="338.70" y1="374.20" x2="351.20" y2="374.20" stroke="#222" stroke-width="1.0"/>
<rect x="188.90" y="390.60" width="167.00" height="13.00" fill="#e0e0e0" stroke="#333" stroke-width="1.15"/>
<rect x="188.90" y="406.20" width="167.00" height="13.80" fill="#ebebeb" stroke="#333" stroke-width="1.15"/>
<rect x="188.90" y="422.30" width="167.00" height="14.10" fill="#e3e3e3" stroke="#333" stroke-width="1.15"/>
<rect x="188.90" y="438.70" width="167.00" height="14.20" fill="#e7e7e7" stroke="#333" stroke-width="1.15"/>
<rect x="188.90" y="454.60" width="167.00" height="14.40" fill="#e4e4e4" stroke="#333" stroke-width="1.15"/>
<text x="185.99" y="399.70" font-size="10.20" text-anchor="end" fill="#1a1a1a" font-weight="bold" stroke="#1a1a1a" stroke-width="0.3">STAT3</text>
<text x="165.01" y="412.40" font-size="6.60" text-anchor="start" fill="#1a1a1a" font-weight="bold" stroke="#1a1a1a" stroke-width="0.3">Tyr705</text>
<text x="164.36" y="416.00" font-size="10.20" text-anchor="end" fill="#1a1a1a" font-weight="bold" stroke="#1a1a1a" stroke-width="0.3">p-STAT3</text>
<text x="185.95" y="432.40" font-size="10.20" text-anchor="end" fill="#1a1a1a" font-weight="bold" stroke="#1a1a1a" stroke-width="0.3">c-Myc</text>
<text x="185.93" y="447.90" font-size="10.20" text-anchor="end" fill="#1a1a1a" font-weight="bold" stroke="#1a1a1a" stroke-width="0.3">Cyclin D1</text>
<text x="186.33" y="464.20" font-size="10.20" text-anchor="end" fill="#1a1a1a" font-weight="bold" stroke="#1a1a1a" stroke-width="0.3">GAPDH</text>
<rect x="191.45" y="395.70" width="11.50" height="3.40" rx="1.70" fill="rgb(12,12,12)" filter="url(#b1)"/>
<rect x="203.95" y="395.70" width="11.50" height="3.40" rx="1.70" fill="rgb(12,12,12)" filter="url(#b1)"/>
<rect x="216.45" y="395.70" width="11.50" height="3.40" rx="1.70" fill="rgb(12,12,12)" filter="url(#b1)"/>
<rect x="228.35" y="395.70" width="11.50" height="3.40" rx="1.70" fill="rgb(12,12,12)" filter="url(#b1)"/>
<rect x="239.95" y="395.70" width="11.50" height="3.40" rx="1.70" fill="rgb(12,12,12)" filter="url(#b1)"/>
<rect x="251.05" y="396.10" width="11.50" height="2.60" rx="1.30" fill="rgb(12,12,12)" filter="url(#b1)"/>
<rect x="262.45" y="395.70" width="11.50" height="3.40" rx="1.70" fill="rgb(12,12,12)" filter="url(#b1)"/>
<rect x="274.35" y="395.70" width="11.50" height="3.40" rx="1.70" fill="rgb(12,12,12)" filter="url(#b1)"/>
<rect x="285.65" y="395.70" width="11.50" height="3.40" rx="1.70" fill="rgb(12,12,12)" filter="url(#b1)"/>
<rect x="298.10" y="396.10" width="9.00" height="2.60" rx="1.30" fill="rgb(31,31,31)" filter="url(#b1)"/>
<rect x="308.05" y="395.70" width="11.50" height="3.40" rx="1.70" fill="rgb(12,12,12)" filter="url(#b1)"/>
<rect x="319.35" y="395.70" width="11.50" height="3.40" rx="1.70" fill="rgb(12,12,12)" filter="url(#b1)"/>
<rect x="330.55" y="395.70" width="11.50" height="3.40" rx="1.70" fill="rgb(12,12,12)" filter="url(#b1)"/>
<rect x="342.65" y="395.70" width="11.50" height="3.40" rx="1.70" fill="rgb(12,12,12)" filter="url(#b1)"/>
<path d="M191.2,410 Q192,408.6 196,408.6 Q200.5,409 200.8,412 L200.6,416.5 Q199,418.6 195,418.4 Q191.2,418.2 191.2,415 Z" fill="#0c0c0c" filter="url(#b1)"/>
<rect x="204.20" y="412.50" width="8.60" height="2.20" rx="1.10" fill="rgb(22,22,22)" filter="url(#b1)"/>
<rect x="243.70" y="413.30" width="4.00" height="1.40" rx="0.70" fill="rgb(188,188,188)" filter="url(#b1)"/>
<rect x="260.40" y="412.50" width="8.60" height="3.40" rx="1.70" fill="rgb(12,12,12)" filter="url(#b1)"/>
<rect x="272.30" y="412.20" width="9.50" height="4.00" rx="2.00" fill="rgb(12,12,12)" filter="url(#b1)"/>
<rect x="284.40" y="412.80" width="7.80" height="2.80" rx="1.40" fill="rgb(12,12,12)" filter="url(#b1)"/>
<rect x="306.00" y="412.20" width="9.00" height="4.00" rx="2.00" fill="rgb(12,12,12)" filter="url(#b1)"/>
<rect x="318.20" y="412.70" width="8.60" height="3.00" rx="1.50" fill="rgb(12,12,12)" filter="url(#b1)"/>
<rect x="329.40" y="411.20" width="9.60" height="6.00" rx="3.00" fill="rgb(12,12,12)" filter="url(#b1)"/>
<rect x="341.50" y="412.10" width="10.40" height="4.20" rx="2.10" fill="rgb(12,12,12)" filter="url(#b1)"/>
<rect x="306.50" y="417.50" width="8.00" height="1.40" rx="0.70" fill="rgb(112,112,112)" filter="url(#b1)"/>
<rect x="330.70" y="407.60" width="7.00" height="1.20" rx="0.60" fill="rgb(92,92,92)" filter="url(#b1)"/>
<rect x="342.20" y="417.40" width="9.00" height="1.20" rx="0.60" fill="rgb(142,142,142)" filter="url(#b1)"/>
<rect x="191.00" y="426.60" width="11.00" height="5.20" rx="2.60" fill="rgb(12,12,12)" filter="url(#b1)"/>
<rect x="204.50" y="427.40" width="10.30" height="3.60" rx="1.80" fill="rgb(12,12,12)" filter="url(#b1)"/>
<rect x="218.00" y="428.30" width="8.00" height="1.80" rx="0.90" fill="rgb(142,142,142)" filter="url(#b1)"/>
<rect x="228.50" y="427.30" width="10.50" height="3.80" rx="1.90" fill="rgb(12,12,12)" filter="url(#b1)"/>
<rect x="240.50" y="427.90" width="8.30" height="2.60" rx="1.30" fill="rgb(22,22,22)" filter="url(#b1)"/>
<rect x="251.00" y="428.10" width="8.00" height="2.20" rx="1.10" fill="rgb(22,22,22)" filter="url(#b1)"/>
<rect x="262.00" y="427.30" width="10.00" height="3.80" rx="1.90" fill="rgb(12,12,12)" filter="url(#b1)"/>
<rect x="274.60" y="426.30" width="9.00" height="5.80" rx="2.90" fill="rgb(12,12,12)" filter="url(#b1)"/>
<rect x="285.30" y="427.10" width="8.70" height="4.20" rx="2.10" fill="rgb(12,12,12)" filter="url(#b1)"/>
<rect x="308.70" y="426.90" width="8.10" height="4.60" rx="2.30" fill="rgb(12,12,12)" filter="url(#b1)"/>
<rect x="319.60" y="426.20" width="9.00" height="6.00" rx="3.00" fill="rgb(12,12,12)" filter="url(#b1)"/>
<rect x="330.30" y="426.20" width="10.40" height="6.00" rx="3.00" fill="rgb(12,12,12)" filter="url(#b1)"/>
<rect x="342.40" y="425.90" width="11.20" height="6.60" rx="3.30" fill="rgb(12,12,12)" filter="url(#b1)"/>
<rect x="190.50" y="442.10" width="11.50" height="6.60" rx="3.30" fill="rgb(12,12,12)" filter="url(#b1)"/>
<rect x="204.00" y="443.60" width="9.00" height="3.60" rx="1.80" fill="rgb(12,12,12)" filter="url(#b1)"/>
<rect x="217.00" y="444.40" width="8.00" height="2.00" rx="1.00" fill="rgb(31,31,31)" filter="url(#b1)"/>
<rect x="228.00" y="442.60" width="9.50" height="5.60" rx="2.80" fill="rgb(12,12,12)" filter="url(#b1)"/>
<rect x="239.50" y="443.30" width="9.00" height="4.20" rx="2.10" fill="rgb(12,12,12)" filter="url(#b1)"/>
<rect x="250.50" y="443.40" width="9.50" height="4.00" rx="2.00" fill="rgb(12,12,12)" filter="url(#b1)"/>
<rect x="261.50" y="443.40" width="10.50" height="4.00" rx="2.00" fill="rgb(12,12,12)" filter="url(#b1)"/>
<rect x="274.90" y="443.40" width="8.70" height="4.00" rx="2.00" fill="rgb(12,12,12)" filter="url(#b1)"/>
<rect x="285.00" y="443.40" width="9.80" height="4.00" rx="2.00" fill="rgb(12,12,12)" filter="url(#b1)"/>
<rect x="308.70" y="443.30" width="9.50" height="4.20" rx="2.10" fill="rgb(12,12,12)" filter="url(#b1)"/>
<rect x="320.80" y="443.90" width="8.60" height="3.00" rx="1.50" fill="rgb(12,12,12)" filter="url(#b1)"/>
<rect x="332.00" y="443.10" width="10.40" height="4.60" rx="2.30" fill="rgb(12,12,12)" filter="url(#b1)"/>
<rect x="344.10" y="442.90" width="10.40" height="5.00" rx="2.50" fill="rgb(12,12,12)" filter="url(#b1)"/>
<rect x="190.90" y="458.90" width="12.60" height="4.60" rx="2.30" fill="rgb(12,12,12)" filter="url(#b1)"/>
<rect x="203.40" y="459.40" width="12.60" height="4.20" rx="2.10" fill="rgb(12,12,12)" filter="url(#b1)"/>
<rect x="215.90" y="459.50" width="12.60" height="3.80" rx="1.90" fill="rgb(12,12,12)" filter="url(#b1)"/>
<rect x="227.80" y="459.70" width="12.60" height="4.00" rx="2.00" fill="rgb(12,12,12)" filter="url(#b1)"/>
<rect x="239.40" y="459.60" width="12.60" height="3.80" rx="1.90" fill="rgb(12,12,12)" filter="url(#b1)"/>
<rect x="250.50" y="460.10" width="12.60" height="3.80" rx="1.90" fill="rgb(12,12,12)" filter="url(#b1)"/>
<rect x="261.90" y="459.90" width="12.60" height="3.80" rx="1.90" fill="rgb(12,12,12)" filter="url(#b1)"/>
<rect x="273.80" y="460.20" width="12.60" height="3.80" rx="1.90" fill="rgb(12,12,12)" filter="url(#b1)"/>
<rect x="285.10" y="460.20" width="12.60" height="3.60" rx="1.80" fill="rgb(12,12,12)" filter="url(#b1)"/>
<rect x="296.30" y="460.40" width="12.60" height="3.60" rx="1.80" fill="rgb(12,12,12)" filter="url(#b1)"/>
<rect x="307.50" y="460.10" width="12.60" height="4.00" rx="2.00" fill="rgb(12,12,12)" filter="url(#b1)"/>
<rect x="318.80" y="460.50" width="12.60" height="3.80" rx="1.90" fill="rgb(12,12,12)" filter="url(#b1)"/>
<rect x="330.00" y="460.20" width="12.60" height="4.40" rx="2.20" fill="rgb(12,12,12)" filter="url(#b1)"/>
<rect x="342.10" y="460.30" width="12.60" height="4.60" rx="2.30" fill="rgb(12,12,12)" filter="url(#b1)"/>
<rect x="192.00" y="464.70" width="9.00" height="1.80" rx="0.90" fill="rgb(72,72,72)" filter="url(#b1)"/>
<rect x="206.50" y="465.40" width="7.00" height="1.20" rx="0.60" fill="rgb(132,132,132)" filter="url(#b1)"/>
<rect x="331.50" y="465.60" width="9.00" height="1.60" rx="0.80" fill="rgb(122,122,122)" filter="url(#b1)"/>
<rect x="343.50" y="465.90" width="9.00" height="1.40" rx="0.70" fill="rgb(142,142,142)" filter="url(#b1)"/>
<text x="462.25" y="363.50" font-size="10.12" text-anchor="start" fill="#1a1a1a" font-weight="bold" stroke="#1a1a1a" stroke-width="0.3">sh-STAT3</text>
<line x1="473.00" y1="368.20" x2="498.50" y2="368.20" stroke="#222" stroke-width="1.0"/>
<text x="0.00" y="0.00" font-size="8.60" text-anchor="start" fill="#1a1a1a" font-weight="bold" stroke="#1a1a1a" stroke-width="0.25" transform="translate(469.90 383.16) rotate(-90)">NC</text>
<text x="0.00" y="0.00" font-size="8.60" text-anchor="start" fill="#1a1a1a" font-weight="bold" stroke="#1a1a1a" stroke-width="0.25" transform="translate(480.70 383.16) rotate(-90)">1#</text>
<text x="0.00" y="0.00" font-size="8.60" text-anchor="start" fill="#1a1a1a" font-weight="bold" stroke="#1a1a1a" stroke-width="0.25" transform="translate(493.50 382.90) rotate(-90)">2#</text>
<rect x="458.00" y="384.10" width="43.90" height="13.90" fill="#dedede" stroke="#333" stroke-width="1.15"/>
<rect x="458.00" y="400.60" width="43.90" height="14.10" fill="#f4f4f4" stroke="#333" stroke-width="1.15"/>
<rect x="458.00" y="417.60" width="43.90" height="12.90" fill="#d8d8d8" stroke="#333" stroke-width="1.15"/>
<rect x="458.00" y="433.80" width="43.90" height="12.90" fill="#f0f0f0" stroke="#333" stroke-width="1.15"/>
<rect x="458.00" y="449.50" width="43.90" height="13.10" fill="#dcdcdc" stroke="#333" stroke-width="1.15"/>
<text x="455.39" y="395.80" font-size="10.10" text-anchor="end" fill="#1a1a1a" font-weight="bold" stroke="#1a1a1a" stroke-width="0.3">STAT3</text>
<text x="434.72" y="407.30" font-size="6.50" text-anchor="start" fill="#1a1a1a" font-weight="bold" stroke="#1a1a1a" stroke-width="0.3">Tyr705</text>
<text x="434.07" y="410.90" font-size="10.10" text-anchor="end" fill="#1a1a1a" font-weight="bold" stroke="#1a1a1a" stroke-width="0.3">p-STAT3</text>
<text x="455.35" y="428.80" font-size="10.10" text-anchor="end" fill="#1a1a1a" font-weight="bold" stroke="#1a1a1a" stroke-width="0.3">c-Myc</text>
<text x="455.33" y="444.70" font-size="10.10" text-anchor="end" fill="#1a1a1a" font-weight="bold" stroke="#1a1a1a" stroke-width="0.3">Cyclin D1</text>
<text x="455.72" y="460.50" font-size="10.10" text-anchor="end" fill="#1a1a1a" font-weight="bold" stroke="#1a1a1a" stroke-width="0.3">GAPDH</text>
<path d="M461.5,391.5 L464,387.4 L470.5,387.2 L473.3,391.6 L470.8,396.4 L464,396.6 Z" fill="#0a0a0a" filter="url(#b1)"/>
<rect x="474.60" y="391.10" width="10.30" height="2.40" rx="1.20" fill="rgb(12,12,12)" filter="url(#b1)"/>
<rect x="487.70" y="391.40" width="10.10" height="1.80" rx="0.90" fill="rgb(62,62,62)" filter="url(#b1)"/>
<rect x="460.40" y="405.90" width="12.90" height="3.00" rx="1.50" fill="rgb(12,12,12)" filter="url(#b1)"/>
<rect x="461.75" y="403.60" width="1.50" height="1.20" rx="0.60" fill="rgb(112,112,112)" filter="url(#b1)"/>
<rect x="467.75" y="403.60" width="1.50" height="1.20" rx="0.60" fill="rgb(112,112,112)" filter="url(#b1)"/>
<rect x="480.00" y="403.90" width="2.00" height="1.00" rx="0.50" fill="rgb(152,152,152)" filter="url(#b1)"/>
<rect x="489.40" y="403.00" width="7.10" height="1.60" rx="0.80" fill="rgb(82,82,82)" filter="url(#b1)"/>
<path d="M460.4,421.5 Q461,420.2 465,420.6 Q470.5,421.6 470.8,424.2 Q470.5,426.2 466,426 Q460.6,425.2 460.4,421.5 Z" fill="#0a0a0a" filter="url(#b1)"/>
<rect x="474.00" y="423.30" width="8.30" height="3.40" rx="1.70" fill="rgb(12,12,12)" filter="url(#b1)"/>
<rect x="459.80" y="436.90" width="12.20" height="4.60" rx="2.30" fill="rgb(12,12,12)" filter="url(#b1)"/>
<rect x="475.00" y="439.20" width="8.00" height="1.60" rx="0.80" fill="rgb(162,162,162)" filter="url(#b1)"/>
<path d="M489.4,436.5 Q490,434.6 493.5,434.7 Q497,435 497.1,437.5 L497.2,441.2 Q496.5,443.2 493,443.1 Q489.5,443 489.4,440.5 Z" fill="#0a0a0a" filter="url(#b1)"/>
<rect x="460.00" y="454.80" width="38.50" height="3.20" rx="1.60" fill="rgb(12,12,12)" filter="url(#b1)"/>
<rect x="500.2" y="401.2" width="1.6" height="2.5" fill="#222"/><rect x="500.2" y="411.6" width="1.6" height="2.5" fill="#222"/>
<line x1="63.60" y1="522.50" x2="63.60" y2="636.40" stroke="#111" stroke-width="1.2"/>
<line x1="59.90" y1="635.80" x2="63.60" y2="635.80" stroke="#111" stroke-width="1.2"/>
<text x="57.63" y="639.10" font-size="9.30" text-anchor="end" fill="#1a1a1a" font-weight="bold" stroke="#1a1a1a" stroke-width="0.3">0</text>
<line x1="59.90" y1="613.26" x2="63.60" y2="613.26" stroke="#111" stroke-width="1.2"/>
<text x="57.50" y="616.56" font-size="9.30" text-anchor="end" fill="#1a1a1a" font-weight="bold" stroke="#1a1a1a" stroke-width="0.3">25</text>
<line x1="59.90" y1="590.72" x2="63.60" y2="590.72" stroke="#111" stroke-width="1.2"/>
<text x="57.64" y="594.02" font-size="9.30" text-anchor="end" fill="#1a1a1a" font-weight="bold" stroke="#1a1a1a" stroke-width="0.3">50</text>
<line x1="59.90" y1="568.18" x2="63.60" y2="568.18" stroke="#111" stroke-width="1.2"/>
<text x="57.50" y="571.48" font-size="9.30" text-anchor="end" fill="#1a1a1a" font-weight="bold" stroke="#1a1a1a" stroke-width="0.3">75</text>
<line x1="59.90" y1="545.64" x2="63.60" y2="545.64" stroke="#111" stroke-width="1.2"/>
<text x="57.65" y="548.94" font-size="9.30" text-anchor="end" fill="#1a1a1a" font-weight="bold" stroke="#1a1a1a" stroke-width="0.3">100</text>
<line x1="59.90" y1="523.10" x2="63.60" y2="523.10" stroke="#111" stroke-width="1.2"/>
<text x="57.51" y="526.40" font-size="9.30" text-anchor="end" fill="#1a1a1a" font-weight="bold" stroke="#1a1a1a" stroke-width="0.3">125</text>
<line x1="63.60" y1="635.80" x2="190.68" y2="635.80" stroke="#111" stroke-width="1.2"/>
<line x1="63.60" y1="635.80" x2="63.60" y2="639.30" stroke="#111" stroke-width="1.2"/>
<text x="57.96" y="651.00" font-size="8.50" text-anchor="start" fill="#1a1a1a" font-weight="bold" stroke="#1a1a1a" stroke-width="0.3">−3</text>
<line x1="84.68" y1="635.80" x2="84.68" y2="639.30" stroke="#111" stroke-width="1.2"/>
<text x="79.06" y="651.00" font-size="8.50" text-anchor="start" fill="#1a1a1a" font-weight="bold" stroke="#1a1a1a" stroke-width="0.3">−2</text>
<line x1="105.76" y1="635.80" x2="105.76" y2="639.30" stroke="#111" stroke-width="1.2"/>
<text x="100.07" y="651.00" font-size="8.50" text-anchor="start" fill="#1a1a1a" font-weight="bold" stroke="#1a1a1a" stroke-width="0.3">−1</text>
<line x1="126.84" y1="635.80" x2="126.84" y2="639.30" stroke="#111" stroke-width="1.2"/>
<text x="124.50" y="651.00" font-size="8.50" text-anchor="start" fill="#1a1a1a" font-weight="bold" stroke="#1a1a1a" stroke-width="0.3">0</text>
<line x1="147.92" y1="635.80" x2="147.92" y2="639.30" stroke="#111" stroke-width="1.2"/>
<text x="145.41" y="651.00" font-size="8.50" text-anchor="start" fill="#1a1a1a" font-weight="bold" stroke="#1a1a1a" stroke-width="0.3">1</text>
<line x1="169.00" y1="635.80" x2="169.00" y2="639.30" stroke="#111" stroke-width="1.2"/>
<text x="166.68" y="651.00" font-size="8.50" text-anchor="start" fill="#1a1a1a" font-weight="bold" stroke="#1a1a1a" stroke-width="0.3">2</text>
<line x1="190.08" y1="635.80" x2="190.08" y2="639.30" stroke="#111" stroke-width="1.2"/>
<text x="187.78" y="651.00" font-size="8.50" text-anchor="start" fill="#1a1a1a" font-weight="bold" stroke="#1a1a1a" stroke-width="0.3">3</text>
<text x="0.00" y="0.00" font-size="10.20" text-anchor="start" fill="#1a1a1a" font-weight="bold" stroke="#1a1a1a" stroke-width="0.3" transform="translate(33.60 644.21) rotate(-90)">Cell viability (% of control)</text>
<text x="61.24" y="664.60" font-size="10.22" text-anchor="start" fill="#1a1a1a" font-weight="bold" stroke="#1a1a1a" stroke-width="0.3">Log [Compound] (μmol/L)</text>
<polyline points="97.96,540.68 98.85,540.68 99.74,540.68 100.62,540.68 101.51,540.68 102.40,540.68 103.29,540.68 104.18,540.68 105.06,540.68 105.95,540.68 106.84,540.68 107.73,540.68 108.62,540.68 109.50,540.68 110.39,540.68 111.28,540.68 112.17,540.68 113.06,540.68 113.94,540.68 114.83,540.68 115.72,540.68 116.61,540.68 117.50,540.68 118.38,540.68 119.27,540.68 120.16,540.68 121.05,540.68 121.94,540.68 122.82,540.68 123.71,540.68 124.60,540.68 125.49,540.68 126.38,540.68 127.26,540.68 128.15,540.69 129.04,540.69 129.93,540.69 130.82,540.69 131.70,540.69 132.59,540.70 133.48,540.70 134.37,540.71 135.26,540.71 136.14,540.72 137.03,540.74 137.92,540.75 138.81,540.77 139.70,540.79 140.58,540.82 141.47,540.86 142.36,540.91 143.25,540.98 144.14,541.06 145.02,541.16 145.91,541.29 146.80,541.46 147.69,541.67 148.58,541.94 149.46,542.28 150.35,542.71 151.24,543.25 152.13,543.93 153.02,544.79 153.90,545.85 154.79,547.18 155.68,548.81 156.57,550.80 157.46,553.21 158.34,556.09 159.23,559.48 160.12,563.41 161.01,567.86 161.90,572.80 162.78,578.15 163.67,583.77 164.56,589.52 165.45,595.24 166.34,600.76 167.22,605.93 168.11,610.66 169.00,614.89" fill="none" stroke="#151515" stroke-width="1.0" stroke-linejoin="round"/>
<polyline points="97.96,544.75 98.85,544.75 99.74,544.75 100.62,544.76 101.51,544.76 102.40,544.76 103.29,544.77 104.18,544.77 105.06,544.77 105.95,544.78 106.84,544.79 107.73,544.79 108.62,544.80 109.50,544.81 110.39,544.82 111.28,544.83 112.17,544.84 113.06,544.86 113.94,544.88 114.83,544.90 115.72,544.92 116.61,544.95 117.50,544.98 118.38,545.01 119.27,545.05 120.16,545.10 121.05,545.15 121.94,545.21 122.82,545.28 123.71,545.35 124.60,545.44 125.49,545.54 126.38,545.66 127.26,545.79 128.15,545.94 129.04,546.12 129.93,546.31 130.82,546.54 131.70,546.79 132.59,547.08 133.48,547.41 134.37,547.79 135.26,548.22 136.14,548.70 137.03,549.25 137.92,549.87 138.81,550.57 139.70,551.35 140.58,552.23 141.47,553.22 142.36,554.33 143.25,555.56 144.14,556.92 145.02,558.42 145.91,560.08 146.80,561.89 147.69,563.86 148.58,565.99 149.46,568.29 150.35,570.73 151.24,573.33 152.13,576.06 153.02,578.90 153.90,581.85 154.79,584.86 155.68,587.93 156.57,591.02 157.46,594.10 158.34,597.15 159.23,600.14 160.12,603.04 161.01,605.83 161.90,608.49 162.78,611.02 163.67,613.39 164.56,615.60 165.45,617.66 166.34,619.55 167.22,621.28 168.11,622.86 169.00,624.30" fill="none" stroke="#2a3290" stroke-width="1.0" stroke-linejoin="round"/>
<polyline points="97.96,545.70 98.85,545.70 99.74,545.71 100.62,545.72 101.51,545.73 102.40,545.74 103.29,545.76 104.18,545.77 105.06,545.79 105.95,545.81 106.84,545.84 107.73,545.86 108.62,545.89 109.50,545.92 110.39,545.96 111.28,546.01 112.17,546.06 113.06,546.11 113.94,546.17 114.83,546.24 115.72,546.33 116.61,546.42 117.50,546.52 118.38,546.64 119.27,546.77 120.16,546.92 121.05,547.09 121.94,547.28 122.82,547.49 123.71,547.74 124.60,548.01 125.49,548.32 126.38,548.67 127.26,549.06 128.15,549.50 129.04,550.00 129.93,550.55 130.82,551.17 131.70,551.86 132.59,552.63 133.48,553.49 134.37,554.44 135.26,555.50 136.14,556.66 137.03,557.94 137.92,559.34 138.81,560.87 139.70,562.53 140.58,564.33 141.47,566.27 142.36,568.35 143.25,570.55 144.14,572.89 145.02,575.35 145.91,577.91 146.80,580.57 147.69,583.30 148.58,586.09 149.46,588.92 150.35,591.76 151.24,594.59 152.13,597.39 153.02,600.14 153.90,602.82 154.79,605.41 155.68,607.90 156.57,610.27 157.46,612.51 158.34,614.62 159.23,616.60 160.12,618.43 161.01,620.13 161.90,621.70 162.78,623.13 163.67,624.45 164.56,625.64 165.45,626.72 166.34,627.70 167.22,628.58 168.11,629.38 169.00,630.09" fill="none" stroke="#6a3fb0" stroke-width="1.0" stroke-linejoin="round"/>
<polyline points="97.96,549.27 98.85,549.37 99.74,549.47 100.62,549.58 101.51,549.70 102.40,549.83 103.29,549.98 104.18,550.14 105.06,550.31 105.95,550.50 106.84,550.71 107.73,550.93 108.62,551.18 109.50,551.44 110.39,551.73 111.28,552.05 112.17,552.39 113.06,552.75 113.94,553.15 114.83,553.58 115.72,554.03 116.61,554.53 117.50,555.05 118.38,555.61 119.27,556.21 120.16,556.84 121.05,557.51 121.94,558.22 122.82,558.96 123.71,559.74 124.60,560.55 125.49,561.39 126.38,562.27 127.26,563.17 128.15,564.09 129.04,565.03 129.93,565.99 130.82,566.97 131.70,567.95 132.59,568.93 133.48,569.91 134.37,570.89 135.26,571.86 136.14,572.81 137.03,573.74 137.92,574.65 138.81,575.53 139.70,576.39 140.58,577.21 141.47,578.00 142.36,578.76 143.25,579.48 144.14,580.16 145.02,580.81 145.91,581.42 146.80,582.00 147.69,582.54 148.58,583.04 149.46,583.51 150.35,583.95 151.24,584.36 152.13,584.74 153.02,585.09 153.90,585.41 154.79,585.71 155.68,585.98 156.57,586.24 157.46,586.47 158.34,586.68 159.23,586.88 160.12,587.06 161.01,587.22 161.90,587.37 162.78,587.51 163.67,587.64 164.56,587.75 165.45,587.86 166.34,587.95 167.22,588.04 168.11,588.12 169.00,588.19" fill="none" stroke="#f08c34" stroke-width="1.0" stroke-linejoin="round"/>
<polyline points="97.96,537.75 98.85,538.29 99.74,538.88 100.62,539.51 101.51,540.21 102.40,540.96 103.29,541.77 104.18,542.65 105.06,543.60 105.95,544.62 106.84,545.72 107.73,546.90 108.62,548.16 109.50,549.51 110.39,550.94 111.28,552.47 112.17,554.08 113.06,555.78 113.94,557.57 114.83,559.45 115.72,561.41 116.61,563.46 117.50,565.57 118.38,567.75 119.27,570.00 120.16,572.29 121.05,574.63 121.94,577.00 122.82,579.39 123.71,581.80 124.60,584.20 125.49,586.59 126.38,588.96 127.26,591.29 128.15,593.59 129.04,595.82 129.93,598.00 130.82,600.11 131.70,602.15 132.59,604.10 133.48,605.98 134.37,607.76 135.26,609.46 136.14,611.06 137.03,612.58 137.92,614.01 138.81,615.35 139.70,616.61 140.58,617.78 141.47,618.87 142.36,619.89 143.25,620.83 144.14,621.70 145.02,622.51 145.91,623.26 146.80,623.95 147.69,624.58 148.58,625.16 149.46,625.70 150.35,626.19 151.24,626.64 152.13,627.05 153.02,627.42 153.90,627.77 154.79,628.08 155.68,628.37 156.57,628.64 157.46,628.87 158.34,629.09 159.23,629.29 160.12,629.47 161.01,629.64 161.90,629.79 162.78,629.93 163.67,630.05 164.56,630.16 165.45,630.27 166.34,630.36 167.22,630.45 168.11,630.52 169.00,630.59" fill="none" stroke="#4a8fd8" stroke-width="1.0" stroke-linejoin="round"/>
<polyline points="77.09,541.80 77.96,542.09 78.84,542.42 79.71,542.79 80.58,543.20 81.45,543.65 82.32,544.16 83.20,544.72 84.07,545.34 84.94,546.02 85.81,546.77 86.69,547.60 87.56,548.51 88.43,549.50 89.30,550.59 90.17,551.76 91.05,553.04 91.92,554.42 92.79,555.90 93.66,557.48 94.53,559.16 95.41,560.95 96.28,562.83 97.15,564.81 98.02,566.86 98.90,568.99 99.77,571.18 100.64,573.42 101.51,575.69 102.38,577.99 103.26,580.28 104.13,582.57 105.00,584.83 105.87,587.04 106.75,589.20 107.62,591.29 108.49,593.31 109.36,595.24 110.23,597.07 111.11,598.81 111.98,600.44 112.85,601.97 113.72,603.40 114.60,604.72 115.47,605.95 116.34,607.08 117.21,608.11 118.08,609.06 118.96,609.93 119.83,610.72 120.70,611.43 121.57,612.08 122.44,612.67 123.32,613.20 124.19,613.68 125.06,614.11 125.93,614.50 126.81,614.85 127.68,615.16 128.55,615.44 129.42,615.69 130.29,615.91 131.17,616.11 132.04,616.29 132.91,616.45 133.78,616.60 134.66,616.73 135.53,616.84 136.40,616.94 137.27,617.03 138.14,617.11 139.02,617.18 139.89,617.25 140.76,617.31 141.63,617.36 142.51,617.40 143.38,617.44 144.25,617.48 145.12,617.51 145.99,617.54 146.87,617.56" fill="none" stroke="#d9453f" stroke-width="1.0" stroke-linejoin="round"/>
<circle cx="97.96" cy="539.51" r="1.6" fill="#151515"/>
<circle cx="108.71" cy="545.19" r="1.6" fill="#151515"/>
<circle cx="119.04" cy="545.19" r="1.6" fill="#151515"/>
<circle cx="127.89" cy="545.19" r="1.6" fill="#151515"/>
<circle cx="138.01" cy="546.90" r="1.6" fill="#151515"/>
<circle cx="147.92" cy="533.92" r="1.6" fill="#151515"/>
<circle cx="159.09" cy="565.48" r="1.6" fill="#151515"/>
<circle cx="169.00" cy="624.98" r="1.6" fill="#151515"/>
<rect x="96.26" y="542.14" width="3.40" height="3.40" fill="#2a3290"/>
<rect x="107.01" y="547.01" width="3.40" height="3.40" fill="#2a3290"/>
<rect x="117.34" y="548.72" width="3.40" height="3.40" fill="#2a3290"/>
<rect x="126.19" y="552.96" width="3.40" height="3.40" fill="#2a3290"/>
<rect x="136.31" y="552.96" width="3.40" height="3.40" fill="#2a3290"/>
<rect x="146.22" y="553.32" width="3.40" height="3.40" fill="#2a3290"/>
<rect x="157.39" y="613.81" width="3.40" height="3.40" fill="#2a3290"/>
<rect x="167.30" y="621.57" width="3.40" height="3.40" fill="#2a3290"/>
<path d="M97.96,542.99 L99.96,546.59 L95.96,546.59 Z" fill="#6a3fb0"/>
<path d="M108.71,545.24 L110.71,548.84 L106.71,548.84 Z" fill="#6a3fb0"/>
<path d="M119.04,549.75 L121.04,553.35 L117.04,553.35 Z" fill="#6a3fb0"/>
<path d="M127.89,554.26 L129.89,557.86 L125.89,557.86 Z" fill="#6a3fb0"/>
<path d="M138.01,565.08 L140.01,568.68 L136.01,568.68 Z" fill="#6a3fb0"/>
<path d="M147.92,579.50 L149.92,583.10 L145.92,583.10 Z" fill="#6a3fb0"/>
<path d="M159.09,608.36 L161.09,611.96 L157.09,611.96 Z" fill="#6a3fb0"/>
<path d="M169.00,629.09 L171.00,632.69 L167.00,632.69 Z" fill="#6a3fb0"/>
<path d="M97.33,552.98 L99.33,549.38 L95.33,549.38 Z" fill="#f08c34"/>
<path d="M108.71,556.50 L110.71,552.90 L106.71,552.90 Z" fill="#f08c34"/>
<path d="M119.04,559.11 L121.04,555.51 L117.04,555.51 Z" fill="#f08c34"/>
<path d="M127.89,568.13 L129.89,564.53 L125.89,564.53 Z" fill="#f08c34"/>
<path d="M138.01,577.14 L140.01,573.54 L136.01,573.54 Z" fill="#f08c34"/>
<path d="M147.92,584.81 L149.92,581.21 L145.92,581.21 Z" fill="#f08c34"/>
<path d="M159.09,586.61 L161.09,583.01 L157.09,583.01 Z" fill="#f08c34"/>
<path d="M169.00,590.85 L171.00,587.25 L167.00,587.25 Z" fill="#f08c34"/>
<path d="M97.96,537.47 L99.96,533.87 L95.96,533.87 Z" fill="#4a8fd8"/>
<path d="M108.71,540.09 L110.71,536.49 L106.71,536.49 Z" fill="#4a8fd8"/>
<path d="M119.04,549.64 L121.04,546.04 L117.04,546.04 Z" fill="#4a8fd8"/>
<path d="M127.68,613.21 L129.68,609.61 L125.68,609.61 Z" fill="#4a8fd8"/>
<path d="M138.01,625.20 L140.01,621.60 L136.01,621.60 Z" fill="#4a8fd8"/>
<path d="M147.92,627.00 L149.92,623.40 L145.92,623.40 Z" fill="#4a8fd8"/>
<path d="M159.09,627.00 L161.09,623.40 L157.09,623.40 Z" fill="#4a8fd8"/>
<path d="M169.00,633.49 L171.00,629.89 L167.00,629.89 Z" fill="#4a8fd8"/>
<circle cx="77.09" cy="547.26" r="1.6" fill="#d9453f"/>
<circle cx="87.21" cy="544.74" r="1.6" fill="#d9453f"/>
<circle cx="97.33" cy="557.72" r="1.6" fill="#d9453f"/>
<circle cx="107.24" cy="604.24" r="1.6" fill="#d9453f"/>
<circle cx="117.35" cy="612.54" r="1.6" fill="#d9453f"/>
<circle cx="127.68" cy="612.36" r="1.6" fill="#d9453f"/>
<circle cx="138.01" cy="615.51" r="1.6" fill="#d9453f"/>
<circle cx="147.50" cy="615.51" r="1.6" fill="#d9453f"/>
<line x1="148.97" y1="530.72" x2="148.97" y2="537.12" stroke="#151515" stroke-width="0.8"/>
<line x1="147.77" y1="530.72" x2="150.17" y2="530.72" stroke="#151515" stroke-width="0.8"/>
<line x1="147.77" y1="537.12" x2="150.17" y2="537.12" stroke="#151515" stroke-width="0.8"/>
<line x1="77.30" y1="543.84" x2="77.30" y2="551.04" stroke="#d9453f" stroke-width="0.8"/>
<line x1="76.10" y1="543.84" x2="78.50" y2="543.84" stroke="#d9453f" stroke-width="0.8"/>
<line x1="76.10" y1="551.04" x2="78.50" y2="551.04" stroke="#d9453f" stroke-width="0.8"/>
<line x1="179.50" y1="537.30" x2="194.20" y2="537.30" stroke="#151515" stroke-width="1.2"/>
<circle cx="186.80" cy="537.30" r="1.2800000000000002" fill="#151515"/>
<text x="202.95" y="540.40" font-size="8.80" text-anchor="start" fill="#1a1a1a" font-weight="bold" stroke="#1a1a1a" stroke-width="0.3">C188-9</text>
<line x1="179.50" y1="551.60" x2="194.20" y2="551.60" stroke="#2a3290" stroke-width="1.2"/>
<rect x="185.44" y="550.24" width="2.72" height="2.72" fill="#2a3290"/>
<text x="202.73" y="554.70" font-size="8.80" text-anchor="start" fill="#1a1a1a" font-weight="bold" stroke="#1a1a1a" stroke-width="0.3">BP-1-102</text>
<line x1="179.50" y1="564.90" x2="194.20" y2="564.90" stroke="#6a3fb0" stroke-width="1.2"/>
<path d="M186.80,563.14 L188.40,566.02 L185.20,566.02 Z" fill="#6a3fb0"/>
<text x="203.04" y="568.00" font-size="8.80" text-anchor="start" fill="#1a1a1a" font-weight="bold" stroke="#1a1a1a" stroke-width="0.3">Stattic</text>
<line x1="179.50" y1="577.30" x2="194.20" y2="577.30" stroke="#f08c34" stroke-width="1.2"/>
<path d="M186.80,579.06 L188.40,576.18 L185.20,576.18 Z" fill="#f08c34"/>
<text x="203.08" y="580.40" font-size="8.80" text-anchor="start" fill="#1a1a1a" font-weight="bold" stroke="#1a1a1a" stroke-width="0.3">AZD1480</text>
<line x1="179.50" y1="590.30" x2="194.20" y2="590.30" stroke="#4a8fd8" stroke-width="1.2"/>
<path d="M186.80,592.06 L188.40,589.18 L185.20,589.18 Z" fill="#4a8fd8"/>
<text x="202.73" y="593.40" font-size="8.80" text-anchor="start" fill="#1a1a1a" font-weight="bold" stroke="#1a1a1a" stroke-width="0.3">BBI-608</text>
<line x1="179.50" y1="603.80" x2="194.20" y2="603.80" stroke="#d9453f" stroke-width="1.2"/>
<circle cx="186.80" cy="603.80" r="1.2800000000000002" fill="#d9453f"/>
<text x="203.30" y="606.90" font-size="8.80" text-anchor="start" fill="#1a1a1a" font-weight="bold" stroke="#1a1a1a" stroke-width="0.3">WB436B</text>
<line x1="323.30" y1="522.97" x2="323.30" y2="636.88" stroke="#111" stroke-width="1.2"/>
<line x1="319.70" y1="523.57" x2="323.30" y2="523.57" stroke="#111" stroke-width="1.2"/>
<text x="317.12" y="526.87" font-size="9.00" text-anchor="end" fill="#1a1a1a" font-weight="bold" stroke="#1a1a1a" stroke-width="0.3">1.8</text>
<line x1="319.70" y1="551.75" x2="323.30" y2="551.75" stroke="#111" stroke-width="1.2"/>
<text x="317.21" y="555.05" font-size="9.00" text-anchor="end" fill="#1a1a1a" font-weight="bold" stroke="#1a1a1a" stroke-width="0.3">1.2</text>
<line x1="319.70" y1="579.92" x2="323.30" y2="579.92" stroke="#111" stroke-width="1.2"/>
<text x="317.16" y="583.22" font-size="9.00" text-anchor="end" fill="#1a1a1a" font-weight="bold" stroke="#1a1a1a" stroke-width="0.3">0.6</text>
<line x1="319.70" y1="608.10" x2="323.30" y2="608.10" stroke="#111" stroke-width="1.2"/>
<text x="317.21" y="611.40" font-size="9.00" text-anchor="end" fill="#1a1a1a" font-weight="bold" stroke="#1a1a1a" stroke-width="0.3">0.0</text>
<line x1="319.70" y1="636.28" x2="323.30" y2="636.28" stroke="#111" stroke-width="1.2"/>
<text x="317.15" y="639.58" font-size="9.00" text-anchor="end" fill="#1a1a1a" font-weight="bold" stroke="#1a1a1a" stroke-width="0.3">−0.6</text>
<line x1="322.70" y1="636.28" x2="451.00" y2="636.28" stroke="#111" stroke-width="1.2"/>
<line x1="323.30" y1="636.28" x2="323.30" y2="639.68" stroke="#111" stroke-width="1.2"/>
<line x1="328.77" y1="636.28" x2="328.77" y2="638.28" stroke="#111" stroke-width="0.8"/>
<line x1="331.96" y1="636.28" x2="331.96" y2="638.28" stroke="#111" stroke-width="0.8"/>
<line x1="334.23" y1="636.28" x2="334.23" y2="638.28" stroke="#111" stroke-width="0.8"/>
<line x1="335.99" y1="636.28" x2="335.99" y2="638.28" stroke="#111" stroke-width="0.8"/>
<line x1="337.43" y1="636.28" x2="337.43" y2="638.28" stroke="#111" stroke-width="0.8"/>
<line x1="338.64" y1="636.28" x2="338.64" y2="638.28" stroke="#111" stroke-width="0.8"/>
<line x1="339.70" y1="636.28" x2="339.70" y2="638.28" stroke="#111" stroke-width="0.8"/>
<line x1="340.63" y1="636.28" x2="340.63" y2="638.28" stroke="#111" stroke-width="0.8"/>
<text x="314.54" y="651.30" font-size="8.7" fill="#1a1a1a" font-weight="bold" stroke="#1a1a1a" stroke-width="0.3">10<tspan font-size="5.8" dy="-3.4">−10</tspan></text>
<line x1="341.46" y1="636.28" x2="341.46" y2="639.68" stroke="#111" stroke-width="1.2"/>
<line x1="346.92" y1="636.28" x2="346.92" y2="638.28" stroke="#111" stroke-width="0.8"/>
<line x1="350.12" y1="636.28" x2="350.12" y2="638.28" stroke="#111" stroke-width="0.8"/>
<line x1="352.39" y1="636.28" x2="352.39" y2="638.28" stroke="#111" stroke-width="0.8"/>
<line x1="354.15" y1="636.28" x2="354.15" y2="638.28" stroke="#111" stroke-width="0.8"/>
<line x1="355.59" y1="636.28" x2="355.59" y2="638.28" stroke="#111" stroke-width="0.8"/>
<line x1="356.80" y1="636.28" x2="356.80" y2="638.28" stroke="#111" stroke-width="0.8"/>
<line x1="357.85" y1="636.28" x2="357.85" y2="638.28" stroke="#111" stroke-width="0.8"/>
<line x1="358.78" y1="636.28" x2="358.78" y2="638.28" stroke="#111" stroke-width="0.8"/>
<text x="334.31" y="651.30" font-size="8.7" fill="#1a1a1a" font-weight="bold" stroke="#1a1a1a" stroke-width="0.3">10<tspan font-size="5.8" dy="-3.4">−9</tspan></text>
<line x1="359.61" y1="636.28" x2="359.61" y2="639.68" stroke="#111" stroke-width="1.2"/>
<line x1="365.08" y1="636.28" x2="365.08" y2="638.28" stroke="#111" stroke-width="0.8"/>
<line x1="368.28" y1="636.28" x2="368.28" y2="638.28" stroke="#111" stroke-width="0.8"/>
<line x1="370.55" y1="636.28" x2="370.55" y2="638.28" stroke="#111" stroke-width="0.8"/>
<line x1="372.31" y1="636.28" x2="372.31" y2="638.28" stroke="#111" stroke-width="0.8"/>
<line x1="373.74" y1="636.28" x2="373.74" y2="638.28" stroke="#111" stroke-width="0.8"/>
<line x1="374.96" y1="636.28" x2="374.96" y2="638.28" stroke="#111" stroke-width="0.8"/>
<line x1="376.01" y1="636.28" x2="376.01" y2="638.28" stroke="#111" stroke-width="0.8"/>
<line x1="376.94" y1="636.28" x2="376.94" y2="638.28" stroke="#111" stroke-width="0.8"/>
<text x="352.47" y="651.30" font-size="8.7" fill="#1a1a1a" font-weight="bold" stroke="#1a1a1a" stroke-width="0.3">10<tspan font-size="5.8" dy="-3.4">−8</tspan></text>
<line x1="377.77" y1="636.28" x2="377.77" y2="639.68" stroke="#111" stroke-width="1.2"/>
<line x1="383.24" y1="636.28" x2="383.24" y2="638.28" stroke="#111" stroke-width="0.8"/>
<line x1="386.43" y1="636.28" x2="386.43" y2="638.28" stroke="#111" stroke-width="0.8"/>
<line x1="388.70" y1="636.28" x2="388.70" y2="638.28" stroke="#111" stroke-width="0.8"/>
<line x1="390.46" y1="636.28" x2="390.46" y2="638.28" stroke="#111" stroke-width="0.8"/>
<line x1="391.90" y1="636.28" x2="391.90" y2="638.28" stroke="#111" stroke-width="0.8"/>
<line x1="393.12" y1="636.28" x2="393.12" y2="638.28" stroke="#111" stroke-width="0.8"/>
<line x1="394.17" y1="636.28" x2="394.17" y2="638.28" stroke="#111" stroke-width="0.8"/>
<line x1="395.10" y1="636.28" x2="395.10" y2="638.28" stroke="#111" stroke-width="0.8"/>
<text x="370.63" y="651.30" font-size="8.7" fill="#1a1a1a" font-weight="bold" stroke="#1a1a1a" stroke-width="0.3">10<tspan font-size="5.8" dy="-3.4">−7</tspan></text>
<line x1="395.93" y1="636.28" x2="395.93" y2="639.68" stroke="#111" stroke-width="1.2"/>
<line x1="401.39" y1="636.28" x2="401.39" y2="638.28" stroke="#111" stroke-width="0.8"/>
<line x1="404.59" y1="636.28" x2="404.59" y2="638.28" stroke="#111" stroke-width="0.8"/>
<line x1="406.86" y1="636.28" x2="406.86" y2="638.28" stroke="#111" stroke-width="0.8"/>
<line x1="408.62" y1="636.28" x2="408.62" y2="638.28" stroke="#111" stroke-width="0.8"/>
<line x1="410.06" y1="636.28" x2="410.06" y2="638.28" stroke="#111" stroke-width="0.8"/>
<line x1="411.27" y1="636.28" x2="411.27" y2="638.28" stroke="#111" stroke-width="0.8"/>
<line x1="412.33" y1="636.28" x2="412.33" y2="638.28" stroke="#111" stroke-width="0.8"/>
<line x1="413.25" y1="636.28" x2="413.25" y2="638.28" stroke="#111" stroke-width="0.8"/>
<text x="388.78" y="651.30" font-size="8.7" fill="#1a1a1a" font-weight="bold" stroke="#1a1a1a" stroke-width="0.3">10<tspan font-size="5.8" dy="-3.4">−6</tspan></text>
<line x1="414.09" y1="636.28" x2="414.09" y2="639.68" stroke="#111" stroke-width="1.2"/>
<line x1="419.55" y1="636.28" x2="419.55" y2="638.28" stroke="#111" stroke-width="0.8"/>
<line x1="422.75" y1="636.28" x2="422.75" y2="638.28" stroke="#111" stroke-width="0.8"/>
<line x1="425.02" y1="636.28" x2="425.02" y2="638.28" stroke="#111" stroke-width="0.8"/>
<line x1="426.78" y1="636.28" x2="426.78" y2="638.28" stroke="#111" stroke-width="0.8"/>
<line x1="428.21" y1="636.28" x2="428.21" y2="638.28" stroke="#111" stroke-width="0.8"/>
<line x1="429.43" y1="636.28" x2="429.43" y2="638.28" stroke="#111" stroke-width="0.8"/>
<line x1="430.48" y1="636.28" x2="430.48" y2="638.28" stroke="#111" stroke-width="0.8"/>
<line x1="431.41" y1="636.28" x2="431.41" y2="638.28" stroke="#111" stroke-width="0.8"/>
<text x="406.94" y="651.30" font-size="8.7" fill="#1a1a1a" font-weight="bold" stroke="#1a1a1a" stroke-width="0.3">10<tspan font-size="5.8" dy="-3.4">−5</tspan></text>
<line x1="432.24" y1="636.28" x2="432.24" y2="639.68" stroke="#111" stroke-width="1.2"/>
<line x1="437.71" y1="636.28" x2="437.71" y2="638.28" stroke="#111" stroke-width="0.8"/>
<line x1="440.91" y1="636.28" x2="440.91" y2="638.28" stroke="#111" stroke-width="0.8"/>
<line x1="443.17" y1="636.28" x2="443.17" y2="638.28" stroke="#111" stroke-width="0.8"/>
<line x1="444.93" y1="636.28" x2="444.93" y2="638.28" stroke="#111" stroke-width="0.8"/>
<line x1="446.37" y1="636.28" x2="446.37" y2="638.28" stroke="#111" stroke-width="0.8"/>
<line x1="447.59" y1="636.28" x2="447.59" y2="638.28" stroke="#111" stroke-width="0.8"/>
<line x1="448.64" y1="636.28" x2="448.64" y2="638.28" stroke="#111" stroke-width="0.8"/>
<line x1="449.57" y1="636.28" x2="449.57" y2="638.28" stroke="#111" stroke-width="0.8"/>
<text x="425.10" y="651.30" font-size="8.7" fill="#1a1a1a" font-weight="bold" stroke="#1a1a1a" stroke-width="0.3">10<tspan font-size="5.8" dy="-3.4">−4</tspan></text>
<line x1="450.40" y1="636.28" x2="450.40" y2="639.68" stroke="#111" stroke-width="1.2"/>
<text x="443.25" y="651.30" font-size="8.7" fill="#1a1a1a" font-weight="bold" stroke="#1a1a1a" stroke-width="0.3">10<tspan font-size="5.8" dy="-3.4">−3</tspan></text>
<text x="0.00" y="0.00" font-size="9.75" text-anchor="start" fill="#1a1a1a" font-weight="bold" stroke="#1a1a1a" stroke-width="0.3" transform="translate(298.10 613.83) rotate(-90)">Fraction bound</text>
<text x="349.99" y="664.60" font-size="10.27" text-anchor="start" fill="#1a1a1a" font-weight="bold" stroke="#1a1a1a" stroke-width="0.3">Compound (M)</text>
<text x="358.21" y="517.50" font-size="9.63" text-anchor="start" fill="#1a1a1a" font-weight="bold" stroke="#1a1a1a" stroke-width="0.3">STAT3</text>
<text x="388.22" y="513.90" font-size="7.36" text-anchor="start" fill="#1a1a1a" font-weight="bold" stroke="#1a1a1a" stroke-width="0.3">127-722</text>
<line x1="324.80" y1="608.10" x2="450.40" y2="608.10" stroke="#111" stroke-width="1.0" stroke-dasharray="1.1 2.3"/>
<line x1="331.70" y1="604.20" x2="331.70" y2="610.20" stroke="#7f9bd0" stroke-width="0.8"/>
<line x1="330.50" y1="604.20" x2="332.90" y2="604.20" stroke="#7f9bd0" stroke-width="0.8"/>
<line x1="343.00" y1="603.60" x2="343.00" y2="607.60" stroke="#7f9bd0" stroke-width="0.8"/>
<line x1="341.80" y1="603.60" x2="344.20" y2="603.60" stroke="#7f9bd0" stroke-width="0.8"/>
<line x1="348.40" y1="603.60" x2="348.40" y2="607.60" stroke="#7f9bd0" stroke-width="0.8"/>
<line x1="347.20" y1="603.60" x2="349.60" y2="603.60" stroke="#7f9bd0" stroke-width="0.8"/>
<line x1="359.10" y1="596.40" x2="359.10" y2="602.40" stroke="#7f9bd0" stroke-width="0.8"/>
<line x1="357.90" y1="596.40" x2="360.30" y2="596.40" stroke="#7f9bd0" stroke-width="0.8"/>
<line x1="364.60" y1="596.50" x2="364.60" y2="601.50" stroke="#7f9bd0" stroke-width="0.8"/>
<line x1="363.40" y1="596.50" x2="365.80" y2="596.50" stroke="#7f9bd0" stroke-width="0.8"/>
<line x1="369.80" y1="590.60" x2="369.80" y2="596.60" stroke="#7f9bd0" stroke-width="0.8"/>
<line x1="368.60" y1="590.60" x2="371.00" y2="590.60" stroke="#7f9bd0" stroke-width="0.8"/>
<line x1="375.50" y1="580.10" x2="375.50" y2="587.10" stroke="#7f9bd0" stroke-width="0.8"/>
<line x1="374.30" y1="580.10" x2="376.70" y2="580.10" stroke="#7f9bd0" stroke-width="0.8"/>
<line x1="380.70" y1="583.10" x2="380.70" y2="587.10" stroke="#7f9bd0" stroke-width="0.8"/>
<line x1="379.50" y1="583.10" x2="381.90" y2="583.10" stroke="#7f9bd0" stroke-width="0.8"/>
<line x1="386.50" y1="575.30" x2="386.50" y2="581.30" stroke="#7f9bd0" stroke-width="0.8"/>
<line x1="385.30" y1="575.30" x2="387.70" y2="575.30" stroke="#7f9bd0" stroke-width="0.8"/>
<line x1="391.50" y1="564.40" x2="391.50" y2="571.40" stroke="#7f9bd0" stroke-width="0.8"/>
<line x1="390.30" y1="564.40" x2="392.70" y2="564.40" stroke="#7f9bd0" stroke-width="0.8"/>
<line x1="397.70" y1="560.30" x2="397.70" y2="568.30" stroke="#7f9bd0" stroke-width="0.8"/>
<line x1="396.50" y1="560.30" x2="398.90" y2="560.30" stroke="#7f9bd0" stroke-width="0.8"/>
<line x1="403.20" y1="559.70" x2="403.20" y2="563.70" stroke="#7f9bd0" stroke-width="0.8"/>
<line x1="402.00" y1="559.70" x2="404.40" y2="559.70" stroke="#7f9bd0" stroke-width="0.8"/>
<line x1="350.20" y1="612.50" x2="350.20" y2="622.50" stroke="#f6b57a" stroke-width="0.8"/>
<line x1="349.00" y1="612.50" x2="351.40" y2="612.50" stroke="#f6b57a" stroke-width="0.8"/>
<line x1="355.90" y1="587.60" x2="355.90" y2="607.60" stroke="#f6b57a" stroke-width="0.8"/>
<line x1="354.70" y1="587.60" x2="357.10" y2="587.60" stroke="#f6b57a" stroke-width="0.8"/>
<line x1="366.90" y1="590.60" x2="366.90" y2="596.60" stroke="#f6b57a" stroke-width="0.8"/>
<line x1="365.70" y1="590.60" x2="368.10" y2="590.60" stroke="#f6b57a" stroke-width="0.8"/>
<line x1="382.70" y1="595.00" x2="382.70" y2="601.00" stroke="#f6b57a" stroke-width="0.8"/>
<line x1="381.50" y1="595.00" x2="383.90" y2="595.00" stroke="#f6b57a" stroke-width="0.8"/>
<line x1="387.90" y1="589.60" x2="387.90" y2="594.60" stroke="#f6b57a" stroke-width="0.8"/>
<line x1="386.70" y1="589.60" x2="389.10" y2="589.60" stroke="#f6b57a" stroke-width="0.8"/>
<line x1="393.70" y1="591.70" x2="393.70" y2="595.70" stroke="#f6b57a" stroke-width="0.8"/>
<line x1="392.50" y1="591.70" x2="394.90" y2="591.70" stroke="#f6b57a" stroke-width="0.8"/>
<line x1="399.10" y1="584.30" x2="399.10" y2="592.30" stroke="#f6b57a" stroke-width="0.8"/>
<line x1="397.90" y1="584.30" x2="400.30" y2="584.30" stroke="#f6b57a" stroke-width="0.8"/>
<line x1="404.90" y1="578.10" x2="404.90" y2="587.10" stroke="#f6b57a" stroke-width="0.8"/>
<line x1="403.70" y1="578.10" x2="406.10" y2="578.10" stroke="#f6b57a" stroke-width="0.8"/>
<line x1="410.10" y1="583.40" x2="410.10" y2="589.40" stroke="#f6b57a" stroke-width="0.8"/>
<line x1="408.90" y1="583.40" x2="411.30" y2="583.40" stroke="#f6b57a" stroke-width="0.8"/>
<line x1="416.20" y1="560.20" x2="416.20" y2="566.20" stroke="#f6b57a" stroke-width="0.8"/>
<line x1="415.00" y1="560.20" x2="417.40" y2="560.20" stroke="#f6b57a" stroke-width="0.8"/>
<line x1="421.40" y1="559.30" x2="421.40" y2="572.30" stroke="#f6b57a" stroke-width="0.8"/>
<line x1="420.20" y1="559.30" x2="422.60" y2="559.30" stroke="#f6b57a" stroke-width="0.8"/>
<line x1="426.90" y1="538.10" x2="426.90" y2="563.10" stroke="#f6b57a" stroke-width="0.8"/>
<line x1="425.70" y1="538.10" x2="428.10" y2="538.10" stroke="#f6b57a" stroke-width="0.8"/>
<line x1="432.50" y1="552.00" x2="432.50" y2="561.00" stroke="#f6b57a" stroke-width="0.8"/>
<line x1="431.30" y1="552.00" x2="433.70" y2="552.00" stroke="#f6b57a" stroke-width="0.8"/>
<polyline points="326.93,608.01 327.92,608.00 328.91,607.99 329.89,607.97 330.88,607.96 331.87,607.94 332.86,607.92 333.84,607.90 334.83,607.87 335.82,607.84 336.80,607.81 337.79,607.77 338.78,607.73 339.77,607.68 340.75,607.63 341.74,607.57 342.73,607.51 343.72,607.44 344.70,607.35 345.69,607.26 346.68,607.16 347.66,607.04 348.65,606.91 349.64,606.76 350.63,606.60 351.61,606.42 352.60,606.21 353.59,605.99 354.58,605.73 355.56,605.45 356.55,605.14 357.54,604.79 358.52,604.41 359.51,603.98 360.50,603.52 361.49,603.00 362.47,602.44 363.46,601.82 364.45,601.15 365.44,600.42 366.42,599.63 367.41,598.78 368.40,597.87 369.39,596.89 370.37,595.86 371.36,594.76 372.35,593.61 373.33,592.41 374.32,591.17 375.31,589.89 376.30,588.57 377.28,587.23 378.27,585.88 379.26,584.53 380.25,583.18 381.23,581.85 382.22,580.54 383.21,579.26 384.19,578.02 385.18,576.83 386.17,575.69 387.16,574.61 388.14,573.59 389.13,572.62 390.12,571.72 391.11,570.88 392.09,570.10 393.08,569.38 394.07,568.72 395.05,568.11 396.04,567.55 397.03,567.05 398.02,566.59 399.00,566.17 399.99,565.79 400.98,565.45 401.97,565.15 402.95,564.87 403.94,564.62 404.93,564.40 405.91,564.20" fill="none" stroke="#2a55a5" stroke-width="1.25" stroke-linejoin="round"/>
<polyline points="352.35,608.04 353.34,608.03 354.33,608.02 355.31,608.01 356.30,608.00 357.29,607.99 358.28,607.97 359.26,607.95 360.25,607.93 361.24,607.91 362.22,607.89 363.21,607.86 364.20,607.83 365.19,607.79 366.17,607.75 367.16,607.70 368.15,607.65 369.14,607.59 370.12,607.53 371.11,607.45 372.10,607.37 373.08,607.27 374.07,607.16 375.06,607.04 376.05,606.90 377.03,606.75 378.02,606.57 379.01,606.37 380.00,606.15 380.98,605.91 381.97,605.63 382.96,605.32 383.94,604.97 384.93,604.58 385.92,604.15 386.91,603.67 387.89,603.14 388.88,602.56 389.87,601.91 390.86,601.21 391.84,600.43 392.83,599.59 393.82,598.68 394.81,597.69 395.79,596.63 396.78,595.50 397.77,594.30 398.75,593.03 399.74,591.70 400.73,590.32 401.72,588.89 402.70,587.42 403.69,585.93 404.68,584.42 405.67,582.91 406.65,581.40 407.64,579.92 408.63,578.46 409.61,577.04 410.60,575.68 411.59,574.37 412.58,573.12 413.56,571.95 414.55,570.84 415.54,569.80 416.53,568.84 417.51,567.95 418.50,567.13 419.49,566.38 420.47,565.70 421.46,565.07 422.45,564.50 423.44,563.99 424.42,563.53 425.41,563.11 426.40,562.74 427.39,562.41 428.37,562.11 429.36,561.84 430.35,561.60 431.33,561.39" fill="none" stroke="#f08c34" stroke-width="1.25" stroke-linejoin="round"/>
<circle cx="326.50" cy="611.00" r="1.8" fill="white" stroke="#2a55a5" stroke-width="1.4"/>
<circle cx="331.70" cy="610.20" r="1.8" fill="white" stroke="#2a55a5" stroke-width="1.4"/>
<circle cx="337.50" cy="607.60" r="1.8" fill="white" stroke="#2a55a5" stroke-width="1.4"/>
<circle cx="343.00" cy="607.60" r="1.8" fill="white" stroke="#2a55a5" stroke-width="1.4"/>
<circle cx="348.40" cy="607.60" r="1.8" fill="white" stroke="#2a55a5" stroke-width="1.4"/>
<circle cx="353.90" cy="602.40" r="1.8" fill="white" stroke="#2a55a5" stroke-width="1.4"/>
<circle cx="359.10" cy="602.40" r="1.8" fill="white" stroke="#2a55a5" stroke-width="1.4"/>
<circle cx="364.60" cy="601.50" r="1.8" fill="white" stroke="#2a55a5" stroke-width="1.4"/>
<circle cx="369.80" cy="596.60" r="1.8" fill="white" stroke="#2a55a5" stroke-width="1.4"/>
<circle cx="375.50" cy="587.10" r="1.8" fill="white" stroke="#2a55a5" stroke-width="1.4"/>
<circle cx="380.70" cy="587.10" r="1.8" fill="white" stroke="#2a55a5" stroke-width="1.4"/>
<circle cx="386.50" cy="581.30" r="1.8" fill="white" stroke="#2a55a5" stroke-width="1.4"/>
<circle cx="391.50" cy="571.40" r="1.8" fill="white" stroke="#2a55a5" stroke-width="1.4"/>
<circle cx="397.70" cy="568.30" r="1.8" fill="white" stroke="#2a55a5" stroke-width="1.4"/>
<circle cx="403.20" cy="563.70" r="1.8" fill="white" stroke="#2a55a5" stroke-width="1.4"/>
<circle cx="408.50" cy="564.60" r="1.8" fill="white" stroke="#2a55a5" stroke-width="1.4"/>
<rect x="348.40" y="620.70" width="3.6" height="3.6" fill="white" stroke="#f08c34" stroke-width="1.3"/>
<rect x="354.10" y="605.80" width="3.6" height="3.6" fill="white" stroke="#f08c34" stroke-width="1.3"/>
<rect x="359.30" y="610.70" width="3.6" height="3.6" fill="white" stroke="#f08c34" stroke-width="1.3"/>
<rect x="365.10" y="594.80" width="3.6" height="3.6" fill="white" stroke="#f08c34" stroke-width="1.3"/>
<rect x="370.30" y="609.80" width="3.6" height="3.6" fill="white" stroke="#f08c34" stroke-width="1.3"/>
<rect x="375.70" y="607.80" width="3.6" height="3.6" fill="white" stroke="#f08c34" stroke-width="1.3"/>
<rect x="380.90" y="599.20" width="3.6" height="3.6" fill="white" stroke="#f08c34" stroke-width="1.3"/>
<rect x="386.10" y="592.80" width="3.6" height="3.6" fill="white" stroke="#f08c34" stroke-width="1.3"/>
<rect x="391.90" y="593.90" width="3.6" height="3.6" fill="white" stroke="#f08c34" stroke-width="1.3"/>
<rect x="397.30" y="590.50" width="3.6" height="3.6" fill="white" stroke="#f08c34" stroke-width="1.3"/>
<rect x="403.10" y="585.30" width="3.6" height="3.6" fill="white" stroke="#f08c34" stroke-width="1.3"/>
<rect x="408.30" y="587.60" width="3.6" height="3.6" fill="white" stroke="#f08c34" stroke-width="1.3"/>
<rect x="414.40" y="564.40" width="3.6" height="3.6" fill="white" stroke="#f08c34" stroke-width="1.3"/>
<rect x="419.60" y="570.50" width="3.6" height="3.6" fill="white" stroke="#f08c34" stroke-width="1.3"/>
<rect x="425.10" y="561.30" width="3.6" height="3.6" fill="white" stroke="#f08c34" stroke-width="1.3"/>
<rect x="430.70" y="559.20" width="3.6" height="3.6" fill="white" stroke="#f08c34" stroke-width="1.3"/>
<line x1="329.60" y1="528.80" x2="345.10" y2="528.80" stroke="#2a55a5" stroke-width="1.2"/>
<circle cx="336.9" cy="528.8" r="1.8" fill="white" stroke="#2a55a5" stroke-width="1.4"/>
<line x1="329.60" y1="538.50" x2="345.10" y2="538.50" stroke="#f08c34" stroke-width="1.2"/>
<rect x="335.1" y="536.7" width="3.6" height="3.6" fill="white" stroke="#f08c34" stroke-width="1.3"/>
<text x="354.70" y="531.70" font-size="8.69" text-anchor="start" fill="#1a1a1a" font-weight="bold" stroke="#1a1a1a" stroke-width="0.3">WB436B</text>
<text x="354.43" y="541.80" font-size="8.90" text-anchor="start" fill="#1a1a1a" font-weight="bold" stroke="#1a1a1a" stroke-width="0.3">Stattic</text>
</svg>
</body></html>
